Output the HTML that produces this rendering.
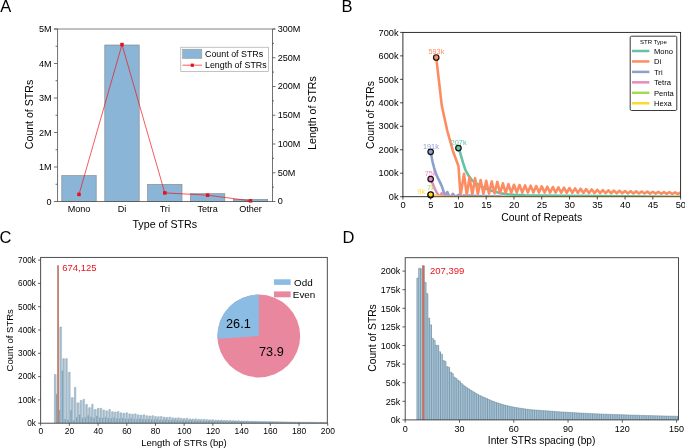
<!DOCTYPE html>
<html lang="en"><head><meta charset="utf-8"><title>STR statistics</title>
<style>html,body{margin:0;padding:0;background:#fff;}body{width:685px;height:448px;overflow:hidden;}svg{display:block;}text{font-family:"Liberation Sans", sans-serif;}</style>
</head><body>
<svg width="685" height="448" viewBox="0 0 685 448">
<rect x="0" y="0" width="685" height="448" fill="#ffffff"/>
<text x="0.2" y="11.9" font-size="16.5" text-anchor="start" fill="#000">A</text>
<text x="341.6" y="11.9" font-size="16.5" text-anchor="start" fill="#000">B</text>
<text x="-0.6" y="242.9" font-size="16.5" text-anchor="start" fill="#000">C</text>
<text x="342.6" y="242.9" font-size="16.5" text-anchor="start" fill="#000">D</text>
<g id="panelA">
<rect x="61.8" y="175.6" width="34.4" height="25.9" fill="#8ab5d6" stroke="#878787" stroke-width="0.65"/>
<rect x="104.8" y="45" width="34.4" height="156.5" fill="#8ab5d6" stroke="#878787" stroke-width="0.65"/>
<rect x="147.6" y="184.4" width="34.4" height="17.1" fill="#8ab5d6" stroke="#878787" stroke-width="0.65"/>
<rect x="190.4" y="193.7" width="34.4" height="7.8" fill="#8ab5d6" stroke="#878787" stroke-width="0.65"/>
<rect x="233.3" y="199.4" width="34.4" height="2.1" fill="#8ab5d6" stroke="#878787" stroke-width="0.65"/>
<polyline points="79,194.4 122,44.6 164.8,192.9 207.6,195.2 250.5,200.8" fill="none" stroke="#f0141e" stroke-width="0.7"/>
<rect x="77.25" y="192.65" width="3.5" height="3.5" fill="#e8101a" stroke="none" stroke-width="1"/>
<rect x="120.25" y="42.85" width="3.5" height="3.5" fill="#e8101a" stroke="none" stroke-width="1"/>
<rect x="163.05" y="191.15" width="3.5" height="3.5" fill="#e8101a" stroke="none" stroke-width="1"/>
<rect x="205.85" y="193.45" width="3.5" height="3.5" fill="#e8101a" stroke="none" stroke-width="1"/>
<rect x="248.75" y="199.05" width="3.5" height="3.5" fill="#e8101a" stroke="none" stroke-width="1"/>
<line x1="53.95" y1="29" x2="275.4" y2="29" stroke="#6a6a6a" stroke-width="0.85"/>
<line x1="57.55" y1="29" x2="57.55" y2="201.5" stroke="#4d4d4d" stroke-width="0.8"/>
<line x1="272.5" y1="29" x2="272.5" y2="201.5" stroke="#4d4d4d" stroke-width="0.8"/>
<line x1="57.15" y1="201.5" x2="272.9" y2="201.5" stroke="#4d4d4d" stroke-width="0.8"/>
<line x1="53.95" y1="201.5" x2="57.55" y2="201.5" stroke="#4d4d4d" stroke-width="0.8"/>
<text x="51.65" y="204.6" font-size="9.1" text-anchor="end" fill="#000">0</text>
<line x1="55.55" y1="184.25" x2="57.55" y2="184.25" stroke="#4d4d4d" stroke-width="0.8"/>
<line x1="53.95" y1="167" x2="57.55" y2="167" stroke="#4d4d4d" stroke-width="0.8"/>
<text x="51.65" y="170.1" font-size="9.1" text-anchor="end" fill="#000">1M</text>
<line x1="55.55" y1="149.75" x2="57.55" y2="149.75" stroke="#4d4d4d" stroke-width="0.8"/>
<line x1="53.95" y1="132.5" x2="57.55" y2="132.5" stroke="#4d4d4d" stroke-width="0.8"/>
<text x="51.65" y="135.6" font-size="9.1" text-anchor="end" fill="#000">2M</text>
<line x1="55.55" y1="115.25" x2="57.55" y2="115.25" stroke="#4d4d4d" stroke-width="0.8"/>
<line x1="53.95" y1="98" x2="57.55" y2="98" stroke="#4d4d4d" stroke-width="0.8"/>
<text x="51.65" y="101.1" font-size="9.1" text-anchor="end" fill="#000">3M</text>
<line x1="55.55" y1="80.75" x2="57.55" y2="80.75" stroke="#4d4d4d" stroke-width="0.8"/>
<line x1="53.95" y1="63.5" x2="57.55" y2="63.5" stroke="#4d4d4d" stroke-width="0.8"/>
<text x="51.65" y="66.6" font-size="9.1" text-anchor="end" fill="#000">4M</text>
<line x1="55.55" y1="46.25" x2="57.55" y2="46.25" stroke="#4d4d4d" stroke-width="0.8"/>
<line x1="53.95" y1="29" x2="57.55" y2="29" stroke="#4d4d4d" stroke-width="0.8"/>
<text x="51.65" y="32.1" font-size="9.1" text-anchor="end" fill="#000">5M</text>
<line x1="272.5" y1="201.5" x2="275.4" y2="201.5" stroke="#4d4d4d" stroke-width="0.8"/>
<text x="277.7" y="204.3" font-size="9.1" text-anchor="start" fill="#000">0</text>
<line x1="272.2" y1="187.12" x2="274" y2="187.12" stroke="#4d4d4d" stroke-width="0.8"/>
<line x1="272.5" y1="172.75" x2="275.4" y2="172.75" stroke="#4d4d4d" stroke-width="0.8"/>
<text x="277.7" y="175.55" font-size="9.1" text-anchor="start" fill="#000">50M</text>
<line x1="272.2" y1="158.38" x2="274" y2="158.38" stroke="#4d4d4d" stroke-width="0.8"/>
<line x1="272.5" y1="144" x2="275.4" y2="144" stroke="#4d4d4d" stroke-width="0.8"/>
<text x="277.7" y="146.8" font-size="9.1" text-anchor="start" fill="#000">100M</text>
<line x1="272.2" y1="129.62" x2="274" y2="129.62" stroke="#4d4d4d" stroke-width="0.8"/>
<line x1="272.5" y1="115.25" x2="275.4" y2="115.25" stroke="#4d4d4d" stroke-width="0.8"/>
<text x="277.7" y="118.05" font-size="9.1" text-anchor="start" fill="#000">150M</text>
<line x1="272.2" y1="100.88" x2="274" y2="100.88" stroke="#4d4d4d" stroke-width="0.8"/>
<line x1="272.5" y1="86.5" x2="275.4" y2="86.5" stroke="#4d4d4d" stroke-width="0.8"/>
<text x="277.7" y="89.3" font-size="9.1" text-anchor="start" fill="#000">200M</text>
<line x1="272.2" y1="72.12" x2="274" y2="72.12" stroke="#4d4d4d" stroke-width="0.8"/>
<line x1="272.5" y1="57.75" x2="275.4" y2="57.75" stroke="#4d4d4d" stroke-width="0.8"/>
<text x="277.7" y="60.55" font-size="9.1" text-anchor="start" fill="#000">250M</text>
<line x1="272.2" y1="43.38" x2="274" y2="43.38" stroke="#4d4d4d" stroke-width="0.8"/>
<line x1="272.5" y1="29" x2="275.4" y2="29" stroke="#4d4d4d" stroke-width="0.8"/>
<text x="277.7" y="31.8" font-size="9.1" text-anchor="start" fill="#000">300M</text>
<text x="79" y="212.2" font-size="9.1" text-anchor="middle" fill="#000">Mono</text>
<text x="122" y="212.2" font-size="9.1" text-anchor="middle" fill="#000">Di</text>
<text x="164.8" y="212.2" font-size="9.1" text-anchor="middle" fill="#000">Tri</text>
<text x="207.6" y="212.2" font-size="9.1" text-anchor="middle" fill="#000">Tetra</text>
<text x="250.5" y="212.2" font-size="9.1" text-anchor="middle" fill="#000">Other</text>
<text x="164.8" y="227.8" font-size="10.7" text-anchor="middle" fill="#000">Type of STRs</text>
<text x="33" y="114.5" font-size="10.6" text-anchor="middle" fill="#000" transform="rotate(-90 33 114.5)">Count of STRs</text>
<text x="316" y="113" font-size="10.6" text-anchor="middle" fill="#000" transform="rotate(-90 316 113)">Length of STRs</text>
<rect x="180.8" y="47.2" width="87.7" height="24.4" fill="#fff" stroke="#9a9a9a" stroke-width="0.6"/>
<rect x="182.6" y="49.2" width="19.2" height="9.2" fill="#8ab5d6" stroke="#9a9a9a" stroke-width="0.6"/>
<text x="205" y="57.3" font-size="8.9" text-anchor="start" fill="#000">Count of STRs</text>
<line x1="182.4" y1="65.2" x2="202" y2="65.2" stroke="#f0141e" stroke-width="0.7"/>
<rect x="190.7" y="63.6" width="3.2" height="3.2" fill="#e8101a" stroke="none" stroke-width="1"/>
<text x="205" y="68.3" font-size="8.9" text-anchor="start" fill="#000">Length of STRs</text>
</g>
<g id="panelB">
<clipPath id="clipB"><rect x="402.9" y="32.4" width="277.7" height="164"/></clipPath>
<polyline clip-path="url(#clipB)" points="458.44,148.11 460.11,152.57 462.99,162.67 465.49,170.18 468.66,175.81 471.77,180.13 475.55,182.9 480.66,186.14 486.21,188.72 491.76,190.83 497.32,192.36 502.87,193.65 508.43,194.35 513.98,194.82 525.09,195.29 541.75,195.57 569.52,195.86 625.06,196.42 680.6,196.7" fill="none" stroke="#66c2a5" stroke-width="2.6" stroke-linejoin="round" stroke-linecap="butt"/>
<polyline clip-path="url(#clipB)" points="436.22,57.51 441.78,105.63 447.33,130.98 452.89,150.93 458.44,165.95 460.55,195.76 463.99,173.7 466.77,195.06 469.55,177.22 472.32,194.7 475.1,178.16 477.88,194.35 480.66,180.04 483.43,194 486.21,180.74 488.99,193.65 491.76,181.44 494.54,193.44 497.32,181.91 500.1,193.23 502.87,183.32 505.65,193.01 508.43,184.03 511.2,192.8 513.98,184.73 516.76,192.59 519.53,185.06 522.31,192.59 525.09,185.39 527.87,192.59 530.64,185.72 533.42,192.59 536.2,186.04 538.97,192.59 541.75,186.37 544.53,192.59 547.3,186.7 550.08,192.64 552.86,187.03 555.63,192.69 558.41,187.36 561.19,192.73 563.97,187.69 566.74,192.78 569.52,188.02 572.3,192.83 575.07,188.37 577.85,192.9 580.63,188.72 583.4,192.97 586.18,189.07 588.96,193.04 591.74,189.42 594.51,193.11 597.29,189.78 600.07,193.18 602.84,190.03 605.62,193.23 608.4,190.29 611.17,193.27 613.95,190.55 616.73,193.32 619.51,190.81 622.28,193.37 625.06,191.07 627.84,193.41 630.61,191.21 633.39,193.46 636.17,191.35 638.95,193.51 641.72,191.49 644.5,193.55 647.28,191.63 650.05,193.6 652.83,191.77 655.61,193.65 658.38,191.91 661.16,193.77 663.94,192.05 666.72,193.88 669.49,192.19 672.27,194 675.05,192.33 677.82,194.12 680.6,192.48" fill="none" stroke="#fc8d62" stroke-width="2.6" stroke-linejoin="round" stroke-linecap="butt"/>
<polyline clip-path="url(#clipB)" points="430.67,151.87 432.5,161.49 434.39,169 436.22,174.4 438.06,178.39 439.95,182.15 441.78,186.14 443.61,191.54 445.5,196 447.33,192.01 449.16,196.23 451.05,196.23 452.89,193.88 454.72,196.35 456.61,196.35 458.44,194.82 460.27,196.47 462.16,196.47 463.99,195.29 465.83,196.47 467.72,196.47 469.55,195.53 471.38,196.47 473.27,196.47 475.1,195.76 476.93,196.47 478.82,196.47 480.66,196 482.49,196.47 484.38,196.47 486.21,196.11 488.99,196.51 491.76,196.23 494.54,196.51 497.32,196.35 502.87,196.7 513.98,197.4 680.6,197.52" fill="none" stroke="#8da0cb" stroke-width="2.6" stroke-linejoin="round" stroke-linecap="butt"/>
<polyline clip-path="url(#clipB)" points="430.67,179.1 432.06,182.15 433.45,185.43 434.84,188.72 436.22,191.54 437.61,193.88 439,196 440.39,196 441.78,193.18 443.17,196.23 444.56,196.47 447.33,195.53 448.72,196.47 452.89,196.11 454.27,196.58 458.44,196.7 469.55,197.4 680.6,197.52" fill="none" stroke="#e78ac3" stroke-width="2.6" stroke-linejoin="round" stroke-linecap="butt"/>
<polyline clip-path="url(#clipB)" points="430.67,195.06 434,196 436.22,196 438.45,196.47 441.78,196.58 447.33,197.17 458.44,197.4 680.6,197.52" fill="none" stroke="#a6d854" stroke-width="2.6" stroke-linejoin="round" stroke-linecap="butt"/>
<polyline clip-path="url(#clipB)" points="430.67,194.59 433.45,195.76 436.22,196 439,196.58 441.78,197.05 447.33,197.4 680.6,197.52" fill="none" stroke="#ffd92f" stroke-width="2.6" stroke-linejoin="round" stroke-linecap="butt"/>
<rect x="402.9" y="32.4" width="277.7" height="164.3" fill="none" stroke="#1a1a1a" stroke-width="0.9"/>
<line x1="430.67" y1="196.7" x2="680.6" y2="196.7" stroke="#ffd92f" stroke-width="0.9" stroke-opacity="0.3"/>
<circle cx="458.44" cy="148.11" r="2.75" fill="#66c2a5" stroke="#111" stroke-width="1.2"/>
<text x="458.64" y="144.81" font-size="7.3" text-anchor="middle" fill="#66c2a5">207k</text>
<circle cx="436.22" cy="57.51" r="2.75" fill="#fc8d62" stroke="#111" stroke-width="1.2"/>
<text x="436.42" y="54.21" font-size="7.3" text-anchor="middle" fill="#fc8d62">593k</text>
<circle cx="430.67" cy="151.87" r="2.75" fill="#8da0cb" stroke="#111" stroke-width="1.2"/>
<text x="430.87" y="148.57" font-size="7.3" text-anchor="middle" fill="#8da0cb">191k</text>
<circle cx="430.67" cy="179.1" r="2.75" fill="#e78ac3" stroke="#111" stroke-width="1.2"/>
<text x="430.67" y="175.8" font-size="7.3" text-anchor="middle" fill="#e78ac3">75k</text>
<circle cx="430.67" cy="195.06" r="2.75" fill="#a6d854" stroke="#111" stroke-width="1.2"/>
<text x="430.97" y="190.16" font-size="7.3" text-anchor="middle" fill="#a6d854">7k</text>
<circle cx="430.67" cy="194.59" r="2.75" fill="#ffd92f" stroke="#111" stroke-width="1.2"/>
<text x="425.07" y="194.19" font-size="7.3" text-anchor="end" fill="#ffd92f">9k</text>
<line x1="400.1" y1="196.7" x2="402.9" y2="196.7" stroke="#1a1a1a" stroke-width="0.8"/>
<text x="398.5" y="199.9" font-size="9.2" text-anchor="end" fill="#000">0k</text>
<line x1="400.1" y1="173.23" x2="402.9" y2="173.23" stroke="#1a1a1a" stroke-width="0.8"/>
<text x="398.5" y="176.43" font-size="9.2" text-anchor="end" fill="#000">100k</text>
<line x1="400.1" y1="149.76" x2="402.9" y2="149.76" stroke="#1a1a1a" stroke-width="0.8"/>
<text x="398.5" y="152.96" font-size="9.2" text-anchor="end" fill="#000">200k</text>
<line x1="400.1" y1="126.29" x2="402.9" y2="126.29" stroke="#1a1a1a" stroke-width="0.8"/>
<text x="398.5" y="129.49" font-size="9.2" text-anchor="end" fill="#000">300k</text>
<line x1="400.1" y1="102.81" x2="402.9" y2="102.81" stroke="#1a1a1a" stroke-width="0.8"/>
<text x="398.5" y="106.01" font-size="9.2" text-anchor="end" fill="#000">400k</text>
<line x1="400.1" y1="79.34" x2="402.9" y2="79.34" stroke="#1a1a1a" stroke-width="0.8"/>
<text x="398.5" y="82.54" font-size="9.2" text-anchor="end" fill="#000">500k</text>
<line x1="400.1" y1="55.87" x2="402.9" y2="55.87" stroke="#1a1a1a" stroke-width="0.8"/>
<text x="398.5" y="59.07" font-size="9.2" text-anchor="end" fill="#000">600k</text>
<line x1="400.1" y1="32.4" x2="402.9" y2="32.4" stroke="#1a1a1a" stroke-width="0.8"/>
<text x="398.5" y="35.6" font-size="9.2" text-anchor="end" fill="#000">700k</text>
<line x1="402.9" y1="196.7" x2="402.9" y2="199.5" stroke="#1a1a1a" stroke-width="0.8"/>
<text x="403.1" y="208.3" font-size="9.3" text-anchor="middle" fill="#000">0</text>
<line x1="430.67" y1="196.7" x2="430.67" y2="199.5" stroke="#1a1a1a" stroke-width="0.8"/>
<text x="430.87" y="208.3" font-size="9.3" text-anchor="middle" fill="#000">5</text>
<line x1="458.44" y1="196.7" x2="458.44" y2="199.5" stroke="#1a1a1a" stroke-width="0.8"/>
<text x="458.64" y="208.3" font-size="9.3" text-anchor="middle" fill="#000">10</text>
<line x1="486.21" y1="196.7" x2="486.21" y2="199.5" stroke="#1a1a1a" stroke-width="0.8"/>
<text x="486.41" y="208.3" font-size="9.3" text-anchor="middle" fill="#000">15</text>
<line x1="513.98" y1="196.7" x2="513.98" y2="199.5" stroke="#1a1a1a" stroke-width="0.8"/>
<text x="514.18" y="208.3" font-size="9.3" text-anchor="middle" fill="#000">20</text>
<line x1="541.75" y1="196.7" x2="541.75" y2="199.5" stroke="#1a1a1a" stroke-width="0.8"/>
<text x="541.95" y="208.3" font-size="9.3" text-anchor="middle" fill="#000">25</text>
<line x1="569.52" y1="196.7" x2="569.52" y2="199.5" stroke="#1a1a1a" stroke-width="0.8"/>
<text x="569.72" y="208.3" font-size="9.3" text-anchor="middle" fill="#000">30</text>
<line x1="597.29" y1="196.7" x2="597.29" y2="199.5" stroke="#1a1a1a" stroke-width="0.8"/>
<text x="597.49" y="208.3" font-size="9.3" text-anchor="middle" fill="#000">35</text>
<line x1="625.06" y1="196.7" x2="625.06" y2="199.5" stroke="#1a1a1a" stroke-width="0.8"/>
<text x="625.26" y="208.3" font-size="9.3" text-anchor="middle" fill="#000">40</text>
<line x1="652.83" y1="196.7" x2="652.83" y2="199.5" stroke="#1a1a1a" stroke-width="0.8"/>
<text x="653.03" y="208.3" font-size="9.3" text-anchor="middle" fill="#000">45</text>
<line x1="680.6" y1="196.7" x2="680.6" y2="199.5" stroke="#1a1a1a" stroke-width="0.8"/>
<text x="680.8" y="208.3" font-size="9.3" text-anchor="middle" fill="#000">50</text>
<text x="541.7" y="221.4" font-size="10.4" text-anchor="middle" fill="#000">Count of Repeats</text>
<text x="373.8" y="115" font-size="10.4" text-anchor="middle" fill="#000" transform="rotate(-90 373.8 115)">Count of STRs</text>
<rect x="630.2" y="36.2" width="46.6" height="74.3" fill="#fff" stroke="#222" stroke-width="0.9" rx="1.4"/>
<text x="653.4" y="44" font-size="6.1" text-anchor="middle" fill="#000">STR Type</text>
<line x1="632" y1="51" x2="649.4" y2="51" stroke="#66c2a5" stroke-width="2.5"/>
<text x="654" y="53.8" font-size="7.6" text-anchor="start" fill="#000">Mono</text>
<line x1="632" y1="61.45" x2="649.4" y2="61.45" stroke="#fc8d62" stroke-width="2.5"/>
<text x="654" y="64.25" font-size="7.6" text-anchor="start" fill="#000">Di</text>
<line x1="632" y1="71.9" x2="649.4" y2="71.9" stroke="#8da0cb" stroke-width="2.5"/>
<text x="654" y="74.7" font-size="7.6" text-anchor="start" fill="#000">Tri</text>
<line x1="632" y1="82.35" x2="649.4" y2="82.35" stroke="#e78ac3" stroke-width="2.5"/>
<text x="654" y="85.15" font-size="7.6" text-anchor="start" fill="#000">Tetra</text>
<line x1="632" y1="92.8" x2="649.4" y2="92.8" stroke="#a6d854" stroke-width="2.5"/>
<text x="654" y="95.6" font-size="7.6" text-anchor="start" fill="#000">Penta</text>
<line x1="632" y1="103.25" x2="649.4" y2="103.25" stroke="#ffd92f" stroke-width="2.5"/>
<text x="654" y="106.05" font-size="7.6" text-anchor="start" fill="#000">Hexa</text>
</g>
<g id="panelC">
<clipPath id="clipC"><rect x="40.65" y="257.4" width="286.65" height="165.8"/></clipPath>
<g clip-path="url(#clipC)">
<rect x="55.91" y="374.5" width="1.44" height="48.7" fill="#e3e5e7" stroke="none" stroke-width="1"/>
<rect x="58.78" y="326.97" width="1.44" height="96.23" fill="#e3e5e7" stroke="none" stroke-width="1"/>
<rect x="61.65" y="358.66" width="1.44" height="64.54" fill="#e3e5e7" stroke="none" stroke-width="1"/>
<rect x="64.52" y="358.66" width="1.44" height="64.54" fill="#e3e5e7" stroke="none" stroke-width="1"/>
<rect x="67.39" y="372.17" width="1.44" height="51.03" fill="#e3e5e7" stroke="none" stroke-width="1"/>
<rect x="70.26" y="397.57" width="1.44" height="25.63" fill="#e3e5e7" stroke="none" stroke-width="1"/>
<rect x="73.13" y="397.57" width="1.44" height="25.63" fill="#e3e5e7" stroke="none" stroke-width="1"/>
<rect x="76" y="402.79" width="1.44" height="20.41" fill="#e3e5e7" stroke="none" stroke-width="1"/>
<rect x="78.87" y="402.79" width="1.44" height="20.41" fill="#e3e5e7" stroke="none" stroke-width="1"/>
<rect x="81.74" y="400.37" width="1.44" height="22.83" fill="#e3e5e7" stroke="none" stroke-width="1"/>
<rect x="84.61" y="404.42" width="1.44" height="18.78" fill="#e3e5e7" stroke="none" stroke-width="1"/>
<rect x="87.48" y="407.59" width="1.44" height="15.61" fill="#e3e5e7" stroke="none" stroke-width="1"/>
<rect x="90.35" y="407.59" width="1.44" height="15.61" fill="#e3e5e7" stroke="none" stroke-width="1"/>
<rect x="93.22" y="409.45" width="1.44" height="13.75" fill="#e3e5e7" stroke="none" stroke-width="1"/>
<rect x="96.09" y="409.45" width="1.44" height="13.75" fill="#e3e5e7" stroke="none" stroke-width="1"/>
<rect x="98.96" y="408.29" width="1.44" height="14.91" fill="#e3e5e7" stroke="none" stroke-width="1"/>
<rect x="101.83" y="409.92" width="1.44" height="13.28" fill="#e3e5e7" stroke="none" stroke-width="1"/>
<rect x="104.71" y="410.85" width="1.44" height="12.35" fill="#e3e5e7" stroke="none" stroke-width="1"/>
<rect x="107.58" y="410.85" width="1.44" height="12.35" fill="#e3e5e7" stroke="none" stroke-width="1"/>
<rect x="110.45" y="411.67" width="1.44" height="11.53" fill="#e3e5e7" stroke="none" stroke-width="1"/>
<rect x="113.32" y="411.97" width="1.44" height="11.23" fill="#e3e5e7" stroke="none" stroke-width="1"/>
<rect x="116.19" y="411.97" width="1.44" height="11.23" fill="#e3e5e7" stroke="none" stroke-width="1"/>
<rect x="119.06" y="412.75" width="1.44" height="10.45" fill="#e3e5e7" stroke="none" stroke-width="1"/>
<rect x="121.93" y="413.13" width="1.44" height="10.07" fill="#e3e5e7" stroke="none" stroke-width="1"/>
<rect x="124.8" y="413.13" width="1.44" height="10.07" fill="#e3e5e7" stroke="none" stroke-width="1"/>
<rect x="127.67" y="413.83" width="1.44" height="9.37" fill="#e3e5e7" stroke="none" stroke-width="1"/>
<rect x="130.54" y="414.17" width="1.44" height="9.03" fill="#e3e5e7" stroke="none" stroke-width="1"/>
<rect x="133.41" y="414.17" width="1.44" height="9.03" fill="#e3e5e7" stroke="none" stroke-width="1"/>
<rect x="136.28" y="414.8" width="1.44" height="8.4" fill="#e3e5e7" stroke="none" stroke-width="1"/>
<rect x="139.15" y="415.1" width="1.44" height="8.1" fill="#e3e5e7" stroke="none" stroke-width="1"/>
<rect x="142.02" y="415.1" width="1.44" height="8.1" fill="#e3e5e7" stroke="none" stroke-width="1"/>
<rect x="144.89" y="415.67" width="1.44" height="7.53" fill="#e3e5e7" stroke="none" stroke-width="1"/>
<rect x="147.76" y="415.94" width="1.44" height="7.26" fill="#e3e5e7" stroke="none" stroke-width="1"/>
<rect x="150.63" y="415.94" width="1.44" height="7.26" fill="#e3e5e7" stroke="none" stroke-width="1"/>
<rect x="153.5" y="416.45" width="1.44" height="6.75" fill="#e3e5e7" stroke="none" stroke-width="1"/>
<rect x="156.37" y="416.69" width="1.44" height="6.51" fill="#e3e5e7" stroke="none" stroke-width="1"/>
<rect x="159.24" y="416.69" width="1.44" height="6.51" fill="#e3e5e7" stroke="none" stroke-width="1"/>
<rect x="162.12" y="417.15" width="1.44" height="6.05" fill="#e3e5e7" stroke="none" stroke-width="1"/>
<rect x="164.99" y="417.36" width="1.44" height="5.84" fill="#e3e5e7" stroke="none" stroke-width="1"/>
<rect x="167.86" y="417.36" width="1.44" height="5.84" fill="#e3e5e7" stroke="none" stroke-width="1"/>
<rect x="170.73" y="417.77" width="1.44" height="5.43" fill="#e3e5e7" stroke="none" stroke-width="1"/>
<rect x="173.6" y="417.97" width="1.44" height="5.23" fill="#e3e5e7" stroke="none" stroke-width="1"/>
<rect x="176.47" y="417.97" width="1.44" height="5.23" fill="#e3e5e7" stroke="none" stroke-width="1"/>
<rect x="179.34" y="418.33" width="1.44" height="4.87" fill="#e3e5e7" stroke="none" stroke-width="1"/>
<rect x="182.21" y="418.51" width="1.44" height="4.69" fill="#e3e5e7" stroke="none" stroke-width="1"/>
<rect x="185.08" y="418.51" width="1.44" height="4.69" fill="#e3e5e7" stroke="none" stroke-width="1"/>
<rect x="187.95" y="418.84" width="1.44" height="4.36" fill="#e3e5e7" stroke="none" stroke-width="1"/>
<rect x="190.82" y="418.99" width="1.44" height="4.21" fill="#e3e5e7" stroke="none" stroke-width="1"/>
<rect x="193.69" y="418.99" width="1.44" height="4.21" fill="#e3e5e7" stroke="none" stroke-width="1"/>
<rect x="196.56" y="419.29" width="1.44" height="3.91" fill="#e3e5e7" stroke="none" stroke-width="1"/>
<rect x="199.43" y="419.43" width="1.44" height="3.77" fill="#e3e5e7" stroke="none" stroke-width="1"/>
<rect x="202.3" y="419.43" width="1.44" height="3.77" fill="#e3e5e7" stroke="none" stroke-width="1"/>
<rect x="205.17" y="419.69" width="1.44" height="3.51" fill="#e3e5e7" stroke="none" stroke-width="1"/>
<rect x="208.04" y="419.82" width="1.44" height="3.38" fill="#e3e5e7" stroke="none" stroke-width="1"/>
<rect x="210.91" y="419.82" width="1.44" height="3.38" fill="#e3e5e7" stroke="none" stroke-width="1"/>
<rect x="213.78" y="420.05" width="1.44" height="3.15" fill="#e3e5e7" stroke="none" stroke-width="1"/>
<rect x="216.65" y="420.17" width="1.44" height="3.03" fill="#e3e5e7" stroke="none" stroke-width="1"/>
<rect x="219.53" y="420.17" width="1.44" height="3.03" fill="#e3e5e7" stroke="none" stroke-width="1"/>
<rect x="222.4" y="420.38" width="1.44" height="2.82" fill="#e3e5e7" stroke="none" stroke-width="1"/>
<rect x="225.27" y="420.48" width="1.44" height="2.72" fill="#e3e5e7" stroke="none" stroke-width="1"/>
<rect x="228.14" y="420.48" width="1.44" height="2.72" fill="#e3e5e7" stroke="none" stroke-width="1"/>
<rect x="231.01" y="420.67" width="1.44" height="2.53" fill="#e3e5e7" stroke="none" stroke-width="1"/>
<rect x="233.88" y="420.76" width="1.44" height="2.44" fill="#e3e5e7" stroke="none" stroke-width="1"/>
<rect x="236.75" y="420.76" width="1.44" height="2.44" fill="#e3e5e7" stroke="none" stroke-width="1"/>
<rect x="239.62" y="420.93" width="1.44" height="2.27" fill="#e3e5e7" stroke="none" stroke-width="1"/>
<rect x="242.49" y="421.01" width="1.44" height="2.19" fill="#e3e5e7" stroke="none" stroke-width="1"/>
<rect x="245.36" y="421.01" width="1.44" height="2.19" fill="#e3e5e7" stroke="none" stroke-width="1"/>
<rect x="248.23" y="421.17" width="1.44" height="2.03" fill="#e3e5e7" stroke="none" stroke-width="1"/>
<rect x="251.1" y="421.24" width="1.44" height="1.96" fill="#e3e5e7" stroke="none" stroke-width="1"/>
<rect x="253.97" y="421.24" width="1.44" height="1.96" fill="#e3e5e7" stroke="none" stroke-width="1"/>
<rect x="256.84" y="421.38" width="1.44" height="1.82" fill="#e3e5e7" stroke="none" stroke-width="1"/>
<rect x="259.71" y="421.44" width="1.44" height="1.76" fill="#e3e5e7" stroke="none" stroke-width="1"/>
<rect x="262.58" y="421.44" width="1.44" height="1.76" fill="#e3e5e7" stroke="none" stroke-width="1"/>
<rect x="265.45" y="421.56" width="1.44" height="1.64" fill="#e3e5e7" stroke="none" stroke-width="1"/>
<rect x="268.32" y="421.62" width="1.44" height="1.58" fill="#e3e5e7" stroke="none" stroke-width="1"/>
<rect x="271.19" y="421.62" width="1.44" height="1.58" fill="#e3e5e7" stroke="none" stroke-width="1"/>
<rect x="274.06" y="421.73" width="1.44" height="1.47" fill="#e3e5e7" stroke="none" stroke-width="1"/>
<rect x="276.94" y="421.79" width="1.44" height="1.41" fill="#e3e5e7" stroke="none" stroke-width="1"/>
<rect x="279.81" y="421.79" width="1.44" height="1.41" fill="#e3e5e7" stroke="none" stroke-width="1"/>
<rect x="282.68" y="421.89" width="1.44" height="1.31" fill="#e3e5e7" stroke="none" stroke-width="1"/>
<rect x="285.55" y="421.93" width="1.44" height="1.27" fill="#e3e5e7" stroke="none" stroke-width="1"/>
<rect x="288.42" y="421.93" width="1.44" height="1.27" fill="#e3e5e7" stroke="none" stroke-width="1"/>
<rect x="291.29" y="422.02" width="1.44" height="1.18" fill="#e3e5e7" stroke="none" stroke-width="1"/>
<rect x="294.16" y="422.06" width="1.44" height="1.14" fill="#e3e5e7" stroke="none" stroke-width="1"/>
<rect x="297.03" y="422.06" width="1.44" height="1.14" fill="#e3e5e7" stroke="none" stroke-width="1"/>
<rect x="299.9" y="422.14" width="1.44" height="1.06" fill="#e3e5e7" stroke="none" stroke-width="1"/>
<rect x="302.77" y="422.18" width="1.44" height="1.02" fill="#e3e5e7" stroke="none" stroke-width="1"/>
<rect x="305.64" y="422.18" width="1.44" height="1.02" fill="#e3e5e7" stroke="none" stroke-width="1"/>
<rect x="308.51" y="422.25" width="1.44" height="0.95" fill="#e3e5e7" stroke="none" stroke-width="1"/>
<rect x="311.38" y="422.29" width="1.44" height="0.91" fill="#e3e5e7" stroke="none" stroke-width="1"/>
<rect x="314.25" y="422.29" width="1.44" height="0.91" fill="#e3e5e7" stroke="none" stroke-width="1"/>
<rect x="317.12" y="422.35" width="1.44" height="0.85" fill="#e3e5e7" stroke="none" stroke-width="1"/>
<rect x="319.99" y="422.38" width="1.44" height="0.82" fill="#e3e5e7" stroke="none" stroke-width="1"/>
<rect x="322.86" y="422.38" width="1.44" height="0.82" fill="#e3e5e7" stroke="none" stroke-width="1"/>
<rect x="325.73" y="422.44" width="1.44" height="0.76" fill="#e3e5e7" stroke="none" stroke-width="1"/>
<rect x="54.4" y="374.5" width="1.58" height="48.7" fill="#a9c8dc" stroke="none" stroke-width="1"/>
<line x1="54.4" y1="374.5" x2="54.4" y2="423.2" stroke="#61798a" stroke-width="0.45" stroke-opacity="0.8"/>
<line x1="55.98" y1="374.5" x2="55.98" y2="423.2" stroke="#61798a" stroke-width="0.3" stroke-opacity="0.55"/>
<line x1="54.4" y1="374.5" x2="55.98" y2="374.5" stroke="#61798a" stroke-width="0.4" stroke-opacity="0.7"/>
<rect x="60.14" y="326.97" width="1.58" height="96.23" fill="#a9c8dc" stroke="none" stroke-width="1"/>
<line x1="60.14" y1="326.97" x2="60.14" y2="423.2" stroke="#61798a" stroke-width="0.45" stroke-opacity="0.8"/>
<line x1="61.72" y1="326.97" x2="61.72" y2="423.2" stroke="#61798a" stroke-width="0.3" stroke-opacity="0.55"/>
<line x1="60.14" y1="326.97" x2="61.72" y2="326.97" stroke="#61798a" stroke-width="0.4" stroke-opacity="0.7"/>
<rect x="63.01" y="358.66" width="1.58" height="64.54" fill="#a9c8dc" stroke="none" stroke-width="1"/>
<line x1="63.01" y1="358.66" x2="63.01" y2="423.2" stroke="#61798a" stroke-width="0.45" stroke-opacity="0.8"/>
<line x1="64.59" y1="358.66" x2="64.59" y2="423.2" stroke="#61798a" stroke-width="0.3" stroke-opacity="0.55"/>
<line x1="63.01" y1="358.66" x2="64.59" y2="358.66" stroke="#61798a" stroke-width="0.4" stroke-opacity="0.7"/>
<rect x="65.88" y="358.66" width="1.58" height="64.54" fill="#a9c8dc" stroke="none" stroke-width="1"/>
<line x1="65.88" y1="358.66" x2="65.88" y2="423.2" stroke="#61798a" stroke-width="0.45" stroke-opacity="0.8"/>
<line x1="67.46" y1="358.66" x2="67.46" y2="423.2" stroke="#61798a" stroke-width="0.3" stroke-opacity="0.55"/>
<line x1="65.88" y1="358.66" x2="67.46" y2="358.66" stroke="#61798a" stroke-width="0.4" stroke-opacity="0.7"/>
<rect x="68.75" y="372.17" width="1.58" height="51.03" fill="#a9c8dc" stroke="none" stroke-width="1"/>
<line x1="68.75" y1="372.17" x2="68.75" y2="423.2" stroke="#61798a" stroke-width="0.45" stroke-opacity="0.8"/>
<line x1="70.33" y1="372.17" x2="70.33" y2="423.2" stroke="#61798a" stroke-width="0.3" stroke-opacity="0.55"/>
<line x1="68.75" y1="372.17" x2="70.33" y2="372.17" stroke="#61798a" stroke-width="0.4" stroke-opacity="0.7"/>
<rect x="71.62" y="397.57" width="1.58" height="25.63" fill="#a9c8dc" stroke="none" stroke-width="1"/>
<line x1="71.62" y1="397.57" x2="71.62" y2="423.2" stroke="#61798a" stroke-width="0.45" stroke-opacity="0.8"/>
<line x1="73.2" y1="397.57" x2="73.2" y2="423.2" stroke="#61798a" stroke-width="0.3" stroke-opacity="0.55"/>
<line x1="71.62" y1="397.57" x2="73.2" y2="397.57" stroke="#61798a" stroke-width="0.4" stroke-opacity="0.7"/>
<rect x="74.49" y="387.32" width="1.58" height="35.88" fill="#a9c8dc" stroke="none" stroke-width="1"/>
<line x1="74.49" y1="387.32" x2="74.49" y2="423.2" stroke="#61798a" stroke-width="0.45" stroke-opacity="0.8"/>
<line x1="76.07" y1="387.32" x2="76.07" y2="423.2" stroke="#61798a" stroke-width="0.3" stroke-opacity="0.55"/>
<line x1="74.49" y1="387.32" x2="76.07" y2="387.32" stroke="#61798a" stroke-width="0.4" stroke-opacity="0.7"/>
<rect x="77.36" y="402.79" width="1.58" height="20.41" fill="#a9c8dc" stroke="none" stroke-width="1"/>
<line x1="77.36" y1="402.79" x2="77.36" y2="423.2" stroke="#61798a" stroke-width="0.45" stroke-opacity="0.8"/>
<line x1="78.94" y1="402.79" x2="78.94" y2="423.2" stroke="#61798a" stroke-width="0.3" stroke-opacity="0.55"/>
<line x1="77.36" y1="402.79" x2="78.94" y2="402.79" stroke="#61798a" stroke-width="0.4" stroke-opacity="0.7"/>
<rect x="80.23" y="400.37" width="1.58" height="22.83" fill="#a9c8dc" stroke="none" stroke-width="1"/>
<line x1="80.23" y1="400.37" x2="80.23" y2="423.2" stroke="#61798a" stroke-width="0.45" stroke-opacity="0.8"/>
<line x1="81.81" y1="400.37" x2="81.81" y2="423.2" stroke="#61798a" stroke-width="0.3" stroke-opacity="0.55"/>
<line x1="80.23" y1="400.37" x2="81.81" y2="400.37" stroke="#61798a" stroke-width="0.4" stroke-opacity="0.7"/>
<rect x="83.1" y="399.29" width="1.58" height="23.91" fill="#a9c8dc" stroke="none" stroke-width="1"/>
<line x1="83.1" y1="399.29" x2="83.1" y2="423.2" stroke="#61798a" stroke-width="0.45" stroke-opacity="0.8"/>
<line x1="84.68" y1="399.29" x2="84.68" y2="423.2" stroke="#61798a" stroke-width="0.3" stroke-opacity="0.55"/>
<line x1="83.1" y1="399.29" x2="84.68" y2="399.29" stroke="#61798a" stroke-width="0.4" stroke-opacity="0.7"/>
<rect x="85.98" y="404.42" width="1.58" height="18.78" fill="#a9c8dc" stroke="none" stroke-width="1"/>
<line x1="85.98" y1="404.42" x2="85.98" y2="423.2" stroke="#61798a" stroke-width="0.45" stroke-opacity="0.8"/>
<line x1="87.55" y1="404.42" x2="87.55" y2="423.2" stroke="#61798a" stroke-width="0.3" stroke-opacity="0.55"/>
<line x1="85.98" y1="404.42" x2="87.55" y2="404.42" stroke="#61798a" stroke-width="0.4" stroke-opacity="0.7"/>
<rect x="88.85" y="407.59" width="1.58" height="15.61" fill="#a9c8dc" stroke="none" stroke-width="1"/>
<line x1="88.85" y1="407.59" x2="88.85" y2="423.2" stroke="#61798a" stroke-width="0.45" stroke-opacity="0.8"/>
<line x1="90.42" y1="407.59" x2="90.42" y2="423.2" stroke="#61798a" stroke-width="0.3" stroke-opacity="0.55"/>
<line x1="88.85" y1="407.59" x2="90.42" y2="407.59" stroke="#61798a" stroke-width="0.4" stroke-opacity="0.7"/>
<rect x="91.72" y="404.33" width="1.58" height="18.87" fill="#a9c8dc" stroke="none" stroke-width="1"/>
<line x1="91.72" y1="404.33" x2="91.72" y2="423.2" stroke="#61798a" stroke-width="0.45" stroke-opacity="0.8"/>
<line x1="93.29" y1="404.33" x2="93.29" y2="423.2" stroke="#61798a" stroke-width="0.3" stroke-opacity="0.55"/>
<line x1="91.72" y1="404.33" x2="93.29" y2="404.33" stroke="#61798a" stroke-width="0.4" stroke-opacity="0.7"/>
<rect x="94.59" y="409.45" width="1.58" height="13.75" fill="#a9c8dc" stroke="none" stroke-width="1"/>
<line x1="94.59" y1="409.45" x2="94.59" y2="423.2" stroke="#61798a" stroke-width="0.45" stroke-opacity="0.8"/>
<line x1="96.17" y1="409.45" x2="96.17" y2="423.2" stroke="#61798a" stroke-width="0.3" stroke-opacity="0.55"/>
<line x1="94.59" y1="409.45" x2="96.17" y2="409.45" stroke="#61798a" stroke-width="0.4" stroke-opacity="0.7"/>
<rect x="97.46" y="408.29" width="1.58" height="14.91" fill="#a9c8dc" stroke="none" stroke-width="1"/>
<line x1="97.46" y1="408.29" x2="97.46" y2="423.2" stroke="#61798a" stroke-width="0.45" stroke-opacity="0.8"/>
<line x1="99.04" y1="408.29" x2="99.04" y2="423.2" stroke="#61798a" stroke-width="0.3" stroke-opacity="0.55"/>
<line x1="97.46" y1="408.29" x2="99.04" y2="408.29" stroke="#61798a" stroke-width="0.4" stroke-opacity="0.7"/>
<rect x="100.33" y="408.29" width="1.58" height="14.91" fill="#a9c8dc" stroke="none" stroke-width="1"/>
<line x1="100.33" y1="408.29" x2="100.33" y2="423.2" stroke="#61798a" stroke-width="0.45" stroke-opacity="0.8"/>
<line x1="101.91" y1="408.29" x2="101.91" y2="423.2" stroke="#61798a" stroke-width="0.3" stroke-opacity="0.55"/>
<line x1="100.33" y1="408.29" x2="101.91" y2="408.29" stroke="#61798a" stroke-width="0.4" stroke-opacity="0.7"/>
<rect x="103.2" y="409.92" width="1.58" height="13.28" fill="#a9c8dc" stroke="none" stroke-width="1"/>
<line x1="103.2" y1="409.92" x2="103.2" y2="423.2" stroke="#61798a" stroke-width="0.45" stroke-opacity="0.8"/>
<line x1="104.78" y1="409.92" x2="104.78" y2="423.2" stroke="#61798a" stroke-width="0.3" stroke-opacity="0.55"/>
<line x1="103.2" y1="409.92" x2="104.78" y2="409.92" stroke="#61798a" stroke-width="0.4" stroke-opacity="0.7"/>
<rect x="106.07" y="410.85" width="1.58" height="12.35" fill="#a9c8dc" stroke="none" stroke-width="1"/>
<line x1="106.07" y1="410.85" x2="106.07" y2="423.2" stroke="#61798a" stroke-width="0.45" stroke-opacity="0.8"/>
<line x1="107.65" y1="410.85" x2="107.65" y2="423.2" stroke="#61798a" stroke-width="0.3" stroke-opacity="0.55"/>
<line x1="106.07" y1="410.85" x2="107.65" y2="410.85" stroke="#61798a" stroke-width="0.4" stroke-opacity="0.7"/>
<rect x="108.94" y="409.45" width="1.58" height="13.75" fill="#a9c8dc" stroke="none" stroke-width="1"/>
<line x1="108.94" y1="409.45" x2="108.94" y2="423.2" stroke="#61798a" stroke-width="0.45" stroke-opacity="0.8"/>
<line x1="110.52" y1="409.45" x2="110.52" y2="423.2" stroke="#61798a" stroke-width="0.3" stroke-opacity="0.55"/>
<line x1="108.94" y1="409.45" x2="110.52" y2="409.45" stroke="#61798a" stroke-width="0.4" stroke-opacity="0.7"/>
<rect x="111.81" y="411.67" width="1.58" height="11.53" fill="#a9c8dc" stroke="none" stroke-width="1"/>
<line x1="111.81" y1="411.67" x2="111.81" y2="423.2" stroke="#61798a" stroke-width="0.45" stroke-opacity="0.8"/>
<line x1="113.39" y1="411.67" x2="113.39" y2="423.2" stroke="#61798a" stroke-width="0.3" stroke-opacity="0.55"/>
<line x1="111.81" y1="411.67" x2="113.39" y2="411.67" stroke="#61798a" stroke-width="0.4" stroke-opacity="0.7"/>
<rect x="114.68" y="411.97" width="1.58" height="11.23" fill="#a9c8dc" stroke="none" stroke-width="1"/>
<line x1="114.68" y1="411.97" x2="114.68" y2="423.2" stroke="#61798a" stroke-width="0.45" stroke-opacity="0.8"/>
<line x1="116.26" y1="411.97" x2="116.26" y2="423.2" stroke="#61798a" stroke-width="0.3" stroke-opacity="0.55"/>
<line x1="114.68" y1="411.97" x2="116.26" y2="411.97" stroke="#61798a" stroke-width="0.4" stroke-opacity="0.7"/>
<rect x="117.55" y="411.5" width="1.58" height="11.7" fill="#a9c8dc" stroke="none" stroke-width="1"/>
<line x1="117.55" y1="411.5" x2="117.55" y2="423.2" stroke="#61798a" stroke-width="0.45" stroke-opacity="0.8"/>
<line x1="119.13" y1="411.5" x2="119.13" y2="423.2" stroke="#61798a" stroke-width="0.3" stroke-opacity="0.55"/>
<line x1="117.55" y1="411.5" x2="119.13" y2="411.5" stroke="#61798a" stroke-width="0.4" stroke-opacity="0.7"/>
<rect x="120.42" y="412.75" width="1.58" height="10.45" fill="#a9c8dc" stroke="none" stroke-width="1"/>
<line x1="120.42" y1="412.75" x2="120.42" y2="423.2" stroke="#61798a" stroke-width="0.45" stroke-opacity="0.8"/>
<line x1="122" y1="412.75" x2="122" y2="423.2" stroke="#61798a" stroke-width="0.3" stroke-opacity="0.55"/>
<line x1="120.42" y1="412.75" x2="122" y2="412.75" stroke="#61798a" stroke-width="0.4" stroke-opacity="0.7"/>
<rect x="123.29" y="413.13" width="1.58" height="10.07" fill="#a9c8dc" stroke="none" stroke-width="1"/>
<line x1="123.29" y1="413.13" x2="123.29" y2="423.2" stroke="#61798a" stroke-width="0.45" stroke-opacity="0.8"/>
<line x1="124.87" y1="413.13" x2="124.87" y2="423.2" stroke="#61798a" stroke-width="0.3" stroke-opacity="0.55"/>
<line x1="123.29" y1="413.13" x2="124.87" y2="413.13" stroke="#61798a" stroke-width="0.4" stroke-opacity="0.7"/>
<rect x="126.16" y="412.71" width="1.58" height="10.49" fill="#a9c8dc" stroke="none" stroke-width="1"/>
<line x1="126.16" y1="412.71" x2="126.16" y2="423.2" stroke="#61798a" stroke-width="0.45" stroke-opacity="0.8"/>
<line x1="127.74" y1="412.71" x2="127.74" y2="423.2" stroke="#61798a" stroke-width="0.3" stroke-opacity="0.55"/>
<line x1="126.16" y1="412.71" x2="127.74" y2="412.71" stroke="#61798a" stroke-width="0.4" stroke-opacity="0.7"/>
<rect x="129.03" y="413.83" width="1.58" height="9.37" fill="#a9c8dc" stroke="none" stroke-width="1"/>
<line x1="129.03" y1="413.83" x2="129.03" y2="423.2" stroke="#61798a" stroke-width="0.45" stroke-opacity="0.8"/>
<line x1="130.61" y1="413.83" x2="130.61" y2="423.2" stroke="#61798a" stroke-width="0.3" stroke-opacity="0.55"/>
<line x1="129.03" y1="413.83" x2="130.61" y2="413.83" stroke="#61798a" stroke-width="0.4" stroke-opacity="0.7"/>
<rect x="131.9" y="414.17" width="1.58" height="9.03" fill="#a9c8dc" stroke="none" stroke-width="1"/>
<line x1="131.9" y1="414.17" x2="131.9" y2="423.2" stroke="#61798a" stroke-width="0.45" stroke-opacity="0.8"/>
<line x1="133.48" y1="414.17" x2="133.48" y2="423.2" stroke="#61798a" stroke-width="0.3" stroke-opacity="0.55"/>
<line x1="131.9" y1="414.17" x2="133.48" y2="414.17" stroke="#61798a" stroke-width="0.4" stroke-opacity="0.7"/>
<rect x="134.77" y="413.79" width="1.58" height="9.41" fill="#a9c8dc" stroke="none" stroke-width="1"/>
<line x1="134.77" y1="413.79" x2="134.77" y2="423.2" stroke="#61798a" stroke-width="0.45" stroke-opacity="0.8"/>
<line x1="136.35" y1="413.79" x2="136.35" y2="423.2" stroke="#61798a" stroke-width="0.3" stroke-opacity="0.55"/>
<line x1="134.77" y1="413.79" x2="136.35" y2="413.79" stroke="#61798a" stroke-width="0.4" stroke-opacity="0.7"/>
<rect x="137.64" y="414.8" width="1.58" height="8.4" fill="#a9c8dc" stroke="none" stroke-width="1"/>
<line x1="137.64" y1="414.8" x2="137.64" y2="423.2" stroke="#61798a" stroke-width="0.45" stroke-opacity="0.8"/>
<line x1="139.22" y1="414.8" x2="139.22" y2="423.2" stroke="#61798a" stroke-width="0.3" stroke-opacity="0.55"/>
<line x1="137.64" y1="414.8" x2="139.22" y2="414.8" stroke="#61798a" stroke-width="0.4" stroke-opacity="0.7"/>
<rect x="140.51" y="415.1" width="1.58" height="8.1" fill="#a9c8dc" stroke="none" stroke-width="1"/>
<line x1="140.51" y1="415.1" x2="140.51" y2="423.2" stroke="#61798a" stroke-width="0.45" stroke-opacity="0.8"/>
<line x1="142.09" y1="415.1" x2="142.09" y2="423.2" stroke="#61798a" stroke-width="0.3" stroke-opacity="0.55"/>
<line x1="140.51" y1="415.1" x2="142.09" y2="415.1" stroke="#61798a" stroke-width="0.4" stroke-opacity="0.7"/>
<rect x="143.39" y="414.77" width="1.58" height="8.43" fill="#a9c8dc" stroke="none" stroke-width="1"/>
<line x1="143.39" y1="414.77" x2="143.39" y2="423.2" stroke="#61798a" stroke-width="0.45" stroke-opacity="0.8"/>
<line x1="144.96" y1="414.77" x2="144.96" y2="423.2" stroke="#61798a" stroke-width="0.3" stroke-opacity="0.55"/>
<line x1="143.39" y1="414.77" x2="144.96" y2="414.77" stroke="#61798a" stroke-width="0.4" stroke-opacity="0.7"/>
<rect x="146.26" y="415.67" width="1.58" height="7.53" fill="#a9c8dc" stroke="none" stroke-width="1"/>
<line x1="146.26" y1="415.67" x2="146.26" y2="423.2" stroke="#61798a" stroke-width="0.45" stroke-opacity="0.8"/>
<line x1="147.83" y1="415.67" x2="147.83" y2="423.2" stroke="#61798a" stroke-width="0.3" stroke-opacity="0.55"/>
<line x1="146.26" y1="415.67" x2="147.83" y2="415.67" stroke="#61798a" stroke-width="0.4" stroke-opacity="0.7"/>
<rect x="149.13" y="415.94" width="1.58" height="7.26" fill="#a9c8dc" stroke="none" stroke-width="1"/>
<line x1="149.13" y1="415.94" x2="149.13" y2="423.2" stroke="#61798a" stroke-width="0.45" stroke-opacity="0.8"/>
<line x1="150.7" y1="415.94" x2="150.7" y2="423.2" stroke="#61798a" stroke-width="0.3" stroke-opacity="0.55"/>
<line x1="149.13" y1="415.94" x2="150.7" y2="415.94" stroke="#61798a" stroke-width="0.4" stroke-opacity="0.7"/>
<rect x="152" y="415.64" width="1.58" height="7.56" fill="#a9c8dc" stroke="none" stroke-width="1"/>
<line x1="152" y1="415.64" x2="152" y2="423.2" stroke="#61798a" stroke-width="0.45" stroke-opacity="0.8"/>
<line x1="153.58" y1="415.64" x2="153.58" y2="423.2" stroke="#61798a" stroke-width="0.3" stroke-opacity="0.55"/>
<line x1="152" y1="415.64" x2="153.58" y2="415.64" stroke="#61798a" stroke-width="0.4" stroke-opacity="0.7"/>
<rect x="154.87" y="416.45" width="1.58" height="6.75" fill="#a9c8dc" stroke="none" stroke-width="1"/>
<line x1="154.87" y1="416.45" x2="154.87" y2="423.2" stroke="#61798a" stroke-width="0.45" stroke-opacity="0.8"/>
<line x1="156.45" y1="416.45" x2="156.45" y2="423.2" stroke="#61798a" stroke-width="0.3" stroke-opacity="0.55"/>
<line x1="154.87" y1="416.45" x2="156.45" y2="416.45" stroke="#61798a" stroke-width="0.4" stroke-opacity="0.7"/>
<rect x="157.74" y="416.69" width="1.58" height="6.51" fill="#a9c8dc" stroke="none" stroke-width="1"/>
<line x1="157.74" y1="416.69" x2="157.74" y2="423.2" stroke="#61798a" stroke-width="0.45" stroke-opacity="0.8"/>
<line x1="159.32" y1="416.69" x2="159.32" y2="423.2" stroke="#61798a" stroke-width="0.3" stroke-opacity="0.55"/>
<line x1="157.74" y1="416.69" x2="159.32" y2="416.69" stroke="#61798a" stroke-width="0.4" stroke-opacity="0.7"/>
<rect x="160.61" y="416.42" width="1.58" height="6.78" fill="#a9c8dc" stroke="none" stroke-width="1"/>
<line x1="160.61" y1="416.42" x2="160.61" y2="423.2" stroke="#61798a" stroke-width="0.45" stroke-opacity="0.8"/>
<line x1="162.19" y1="416.42" x2="162.19" y2="423.2" stroke="#61798a" stroke-width="0.3" stroke-opacity="0.55"/>
<line x1="160.61" y1="416.42" x2="162.19" y2="416.42" stroke="#61798a" stroke-width="0.4" stroke-opacity="0.7"/>
<rect x="163.48" y="417.15" width="1.58" height="6.05" fill="#a9c8dc" stroke="none" stroke-width="1"/>
<line x1="163.48" y1="417.15" x2="163.48" y2="423.2" stroke="#61798a" stroke-width="0.45" stroke-opacity="0.8"/>
<line x1="165.06" y1="417.15" x2="165.06" y2="423.2" stroke="#61798a" stroke-width="0.3" stroke-opacity="0.55"/>
<line x1="163.48" y1="417.15" x2="165.06" y2="417.15" stroke="#61798a" stroke-width="0.4" stroke-opacity="0.7"/>
<rect x="166.35" y="417.36" width="1.58" height="5.84" fill="#a9c8dc" stroke="none" stroke-width="1"/>
<line x1="166.35" y1="417.36" x2="166.35" y2="423.2" stroke="#61798a" stroke-width="0.45" stroke-opacity="0.8"/>
<line x1="167.93" y1="417.36" x2="167.93" y2="423.2" stroke="#61798a" stroke-width="0.3" stroke-opacity="0.55"/>
<line x1="166.35" y1="417.36" x2="167.93" y2="417.36" stroke="#61798a" stroke-width="0.4" stroke-opacity="0.7"/>
<rect x="169.22" y="417.12" width="1.58" height="6.08" fill="#a9c8dc" stroke="none" stroke-width="1"/>
<line x1="169.22" y1="417.12" x2="169.22" y2="423.2" stroke="#61798a" stroke-width="0.45" stroke-opacity="0.8"/>
<line x1="170.8" y1="417.12" x2="170.8" y2="423.2" stroke="#61798a" stroke-width="0.3" stroke-opacity="0.55"/>
<line x1="169.22" y1="417.12" x2="170.8" y2="417.12" stroke="#61798a" stroke-width="0.4" stroke-opacity="0.7"/>
<rect x="172.09" y="417.77" width="1.58" height="5.43" fill="#a9c8dc" stroke="none" stroke-width="1"/>
<line x1="172.09" y1="417.77" x2="172.09" y2="423.2" stroke="#61798a" stroke-width="0.45" stroke-opacity="0.8"/>
<line x1="173.67" y1="417.77" x2="173.67" y2="423.2" stroke="#61798a" stroke-width="0.3" stroke-opacity="0.55"/>
<line x1="172.09" y1="417.77" x2="173.67" y2="417.77" stroke="#61798a" stroke-width="0.4" stroke-opacity="0.7"/>
<rect x="174.96" y="417.97" width="1.58" height="5.23" fill="#a9c8dc" stroke="none" stroke-width="1"/>
<line x1="174.96" y1="417.97" x2="174.96" y2="423.2" stroke="#61798a" stroke-width="0.45" stroke-opacity="0.8"/>
<line x1="176.54" y1="417.97" x2="176.54" y2="423.2" stroke="#61798a" stroke-width="0.3" stroke-opacity="0.55"/>
<line x1="174.96" y1="417.97" x2="176.54" y2="417.97" stroke="#61798a" stroke-width="0.4" stroke-opacity="0.7"/>
<rect x="177.83" y="417.75" width="1.58" height="5.45" fill="#a9c8dc" stroke="none" stroke-width="1"/>
<line x1="177.83" y1="417.75" x2="177.83" y2="423.2" stroke="#61798a" stroke-width="0.45" stroke-opacity="0.8"/>
<line x1="179.41" y1="417.75" x2="179.41" y2="423.2" stroke="#61798a" stroke-width="0.3" stroke-opacity="0.55"/>
<line x1="177.83" y1="417.75" x2="179.41" y2="417.75" stroke="#61798a" stroke-width="0.4" stroke-opacity="0.7"/>
<rect x="180.7" y="418.33" width="1.58" height="4.87" fill="#a9c8dc" stroke="none" stroke-width="1"/>
<line x1="180.7" y1="418.33" x2="180.7" y2="423.2" stroke="#61798a" stroke-width="0.45" stroke-opacity="0.8"/>
<line x1="182.28" y1="418.33" x2="182.28" y2="423.2" stroke="#61798a" stroke-width="0.3" stroke-opacity="0.55"/>
<line x1="180.7" y1="418.33" x2="182.28" y2="418.33" stroke="#61798a" stroke-width="0.4" stroke-opacity="0.7"/>
<rect x="183.57" y="418.51" width="1.58" height="4.69" fill="#a9c8dc" stroke="none" stroke-width="1"/>
<line x1="183.57" y1="418.51" x2="183.57" y2="423.2" stroke="#61798a" stroke-width="0.45" stroke-opacity="0.8"/>
<line x1="185.15" y1="418.51" x2="185.15" y2="423.2" stroke="#61798a" stroke-width="0.3" stroke-opacity="0.55"/>
<line x1="183.57" y1="418.51" x2="185.15" y2="418.51" stroke="#61798a" stroke-width="0.4" stroke-opacity="0.7"/>
<rect x="186.44" y="418.31" width="1.58" height="4.89" fill="#a9c8dc" stroke="none" stroke-width="1"/>
<line x1="186.44" y1="418.31" x2="186.44" y2="423.2" stroke="#61798a" stroke-width="0.45" stroke-opacity="0.8"/>
<line x1="188.02" y1="418.31" x2="188.02" y2="423.2" stroke="#61798a" stroke-width="0.3" stroke-opacity="0.55"/>
<line x1="186.44" y1="418.31" x2="188.02" y2="418.31" stroke="#61798a" stroke-width="0.4" stroke-opacity="0.7"/>
<rect x="189.31" y="418.84" width="1.58" height="4.36" fill="#a9c8dc" stroke="none" stroke-width="1"/>
<line x1="189.31" y1="418.84" x2="189.31" y2="423.2" stroke="#61798a" stroke-width="0.45" stroke-opacity="0.8"/>
<line x1="190.89" y1="418.84" x2="190.89" y2="423.2" stroke="#61798a" stroke-width="0.3" stroke-opacity="0.55"/>
<line x1="189.31" y1="418.84" x2="190.89" y2="418.84" stroke="#61798a" stroke-width="0.4" stroke-opacity="0.7"/>
<rect x="192.18" y="418.99" width="1.58" height="4.21" fill="#a9c8dc" stroke="none" stroke-width="1"/>
<line x1="192.18" y1="418.99" x2="192.18" y2="423.2" stroke="#61798a" stroke-width="0.45" stroke-opacity="0.8"/>
<line x1="193.76" y1="418.99" x2="193.76" y2="423.2" stroke="#61798a" stroke-width="0.3" stroke-opacity="0.55"/>
<line x1="192.18" y1="418.99" x2="193.76" y2="418.99" stroke="#61798a" stroke-width="0.4" stroke-opacity="0.7"/>
<rect x="195.05" y="418.82" width="1.58" height="4.38" fill="#a9c8dc" stroke="none" stroke-width="1"/>
<line x1="195.05" y1="418.82" x2="195.05" y2="423.2" stroke="#61798a" stroke-width="0.45" stroke-opacity="0.8"/>
<line x1="196.63" y1="418.82" x2="196.63" y2="423.2" stroke="#61798a" stroke-width="0.3" stroke-opacity="0.55"/>
<line x1="195.05" y1="418.82" x2="196.63" y2="418.82" stroke="#61798a" stroke-width="0.4" stroke-opacity="0.7"/>
<rect x="197.92" y="419.29" width="1.58" height="3.91" fill="#a9c8dc" stroke="none" stroke-width="1"/>
<line x1="197.92" y1="419.29" x2="197.92" y2="423.2" stroke="#61798a" stroke-width="0.45" stroke-opacity="0.8"/>
<line x1="199.5" y1="419.29" x2="199.5" y2="423.2" stroke="#61798a" stroke-width="0.3" stroke-opacity="0.55"/>
<line x1="197.92" y1="419.29" x2="199.5" y2="419.29" stroke="#61798a" stroke-width="0.4" stroke-opacity="0.7"/>
<rect x="200.8" y="419.43" width="1.58" height="3.77" fill="#a9c8dc" stroke="none" stroke-width="1"/>
<line x1="200.8" y1="419.43" x2="200.8" y2="423.2" stroke="#61798a" stroke-width="0.45" stroke-opacity="0.8"/>
<line x1="202.37" y1="419.43" x2="202.37" y2="423.2" stroke="#61798a" stroke-width="0.3" stroke-opacity="0.55"/>
<line x1="200.8" y1="419.43" x2="202.37" y2="419.43" stroke="#61798a" stroke-width="0.4" stroke-opacity="0.7"/>
<rect x="203.67" y="419.27" width="1.58" height="3.93" fill="#a9c8dc" stroke="none" stroke-width="1"/>
<line x1="203.67" y1="419.27" x2="203.67" y2="423.2" stroke="#61798a" stroke-width="0.45" stroke-opacity="0.8"/>
<line x1="205.24" y1="419.27" x2="205.24" y2="423.2" stroke="#61798a" stroke-width="0.3" stroke-opacity="0.55"/>
<line x1="203.67" y1="419.27" x2="205.24" y2="419.27" stroke="#61798a" stroke-width="0.4" stroke-opacity="0.7"/>
<rect x="206.54" y="419.69" width="1.58" height="3.51" fill="#a9c8dc" stroke="none" stroke-width="1"/>
<line x1="206.54" y1="419.69" x2="206.54" y2="423.2" stroke="#61798a" stroke-width="0.45" stroke-opacity="0.8"/>
<line x1="208.11" y1="419.69" x2="208.11" y2="423.2" stroke="#61798a" stroke-width="0.3" stroke-opacity="0.55"/>
<line x1="206.54" y1="419.69" x2="208.11" y2="419.69" stroke="#61798a" stroke-width="0.4" stroke-opacity="0.7"/>
<rect x="209.41" y="419.82" width="1.58" height="3.38" fill="#a9c8dc" stroke="none" stroke-width="1"/>
<line x1="209.41" y1="419.82" x2="209.41" y2="423.2" stroke="#61798a" stroke-width="0.45" stroke-opacity="0.8"/>
<line x1="210.99" y1="419.82" x2="210.99" y2="423.2" stroke="#61798a" stroke-width="0.3" stroke-opacity="0.55"/>
<line x1="209.41" y1="419.82" x2="210.99" y2="419.82" stroke="#61798a" stroke-width="0.4" stroke-opacity="0.7"/>
<rect x="212.28" y="419.68" width="1.58" height="3.52" fill="#a9c8dc" stroke="none" stroke-width="1"/>
<line x1="212.28" y1="419.68" x2="212.28" y2="423.2" stroke="#61798a" stroke-width="0.45" stroke-opacity="0.8"/>
<line x1="213.86" y1="419.68" x2="213.86" y2="423.2" stroke="#61798a" stroke-width="0.3" stroke-opacity="0.55"/>
<line x1="212.28" y1="419.68" x2="213.86" y2="419.68" stroke="#61798a" stroke-width="0.4" stroke-opacity="0.7"/>
<rect x="215.15" y="420.05" width="1.58" height="3.15" fill="#a9c8dc" stroke="none" stroke-width="1"/>
<line x1="215.15" y1="420.05" x2="215.15" y2="423.2" stroke="#61798a" stroke-width="0.45" stroke-opacity="0.8"/>
<line x1="216.73" y1="420.05" x2="216.73" y2="423.2" stroke="#61798a" stroke-width="0.3" stroke-opacity="0.55"/>
<line x1="215.15" y1="420.05" x2="216.73" y2="420.05" stroke="#61798a" stroke-width="0.4" stroke-opacity="0.7"/>
<rect x="218.02" y="420.17" width="1.58" height="3.03" fill="#a9c8dc" stroke="none" stroke-width="1"/>
<line x1="218.02" y1="420.17" x2="218.02" y2="423.2" stroke="#61798a" stroke-width="0.45" stroke-opacity="0.8"/>
<line x1="219.6" y1="420.17" x2="219.6" y2="423.2" stroke="#61798a" stroke-width="0.3" stroke-opacity="0.55"/>
<line x1="218.02" y1="420.17" x2="219.6" y2="420.17" stroke="#61798a" stroke-width="0.4" stroke-opacity="0.7"/>
<rect x="220.89" y="420.04" width="1.58" height="3.16" fill="#a9c8dc" stroke="none" stroke-width="1"/>
<line x1="220.89" y1="420.04" x2="220.89" y2="423.2" stroke="#61798a" stroke-width="0.45" stroke-opacity="0.8"/>
<line x1="222.47" y1="420.04" x2="222.47" y2="423.2" stroke="#61798a" stroke-width="0.3" stroke-opacity="0.55"/>
<line x1="220.89" y1="420.04" x2="222.47" y2="420.04" stroke="#61798a" stroke-width="0.4" stroke-opacity="0.7"/>
<rect x="223.76" y="420.38" width="1.58" height="2.82" fill="#a9c8dc" stroke="none" stroke-width="1"/>
<line x1="223.76" y1="420.38" x2="223.76" y2="423.2" stroke="#61798a" stroke-width="0.45" stroke-opacity="0.8"/>
<line x1="225.34" y1="420.38" x2="225.34" y2="423.2" stroke="#61798a" stroke-width="0.3" stroke-opacity="0.55"/>
<line x1="223.76" y1="420.38" x2="225.34" y2="420.38" stroke="#61798a" stroke-width="0.4" stroke-opacity="0.7"/>
<rect x="226.63" y="420.48" width="1.58" height="2.72" fill="#a9c8dc" stroke="none" stroke-width="1"/>
<line x1="226.63" y1="420.48" x2="226.63" y2="423.2" stroke="#61798a" stroke-width="0.45" stroke-opacity="0.8"/>
<line x1="228.21" y1="420.48" x2="228.21" y2="423.2" stroke="#61798a" stroke-width="0.3" stroke-opacity="0.55"/>
<line x1="226.63" y1="420.48" x2="228.21" y2="420.48" stroke="#61798a" stroke-width="0.4" stroke-opacity="0.7"/>
<rect x="229.5" y="420.37" width="1.58" height="2.83" fill="#a9c8dc" stroke="none" stroke-width="1"/>
<line x1="229.5" y1="420.37" x2="229.5" y2="423.2" stroke="#61798a" stroke-width="0.45" stroke-opacity="0.8"/>
<line x1="231.08" y1="420.37" x2="231.08" y2="423.2" stroke="#61798a" stroke-width="0.3" stroke-opacity="0.55"/>
<line x1="229.5" y1="420.37" x2="231.08" y2="420.37" stroke="#61798a" stroke-width="0.4" stroke-opacity="0.7"/>
<rect x="232.37" y="420.67" width="1.58" height="2.53" fill="#a9c8dc" stroke="none" stroke-width="1"/>
<line x1="232.37" y1="420.67" x2="232.37" y2="423.2" stroke="#61798a" stroke-width="0.45" stroke-opacity="0.8"/>
<line x1="233.95" y1="420.67" x2="233.95" y2="423.2" stroke="#61798a" stroke-width="0.3" stroke-opacity="0.55"/>
<line x1="232.37" y1="420.67" x2="233.95" y2="420.67" stroke="#61798a" stroke-width="0.4" stroke-opacity="0.7"/>
<rect x="235.24" y="420.76" width="1.58" height="2.44" fill="#a9c8dc" stroke="none" stroke-width="1"/>
<line x1="235.24" y1="420.76" x2="235.24" y2="423.2" stroke="#61798a" stroke-width="0.45" stroke-opacity="0.8"/>
<line x1="236.82" y1="420.76" x2="236.82" y2="423.2" stroke="#61798a" stroke-width="0.3" stroke-opacity="0.55"/>
<line x1="235.24" y1="420.76" x2="236.82" y2="420.76" stroke="#61798a" stroke-width="0.4" stroke-opacity="0.7"/>
<rect x="238.11" y="420.66" width="1.58" height="2.54" fill="#a9c8dc" stroke="none" stroke-width="1"/>
<line x1="238.11" y1="420.66" x2="238.11" y2="423.2" stroke="#61798a" stroke-width="0.45" stroke-opacity="0.8"/>
<line x1="239.69" y1="420.66" x2="239.69" y2="423.2" stroke="#61798a" stroke-width="0.3" stroke-opacity="0.55"/>
<line x1="238.11" y1="420.66" x2="239.69" y2="420.66" stroke="#61798a" stroke-width="0.4" stroke-opacity="0.7"/>
<rect x="240.98" y="420.93" width="1.58" height="2.27" fill="#a9c8dc" stroke="none" stroke-width="1"/>
<line x1="240.98" y1="420.93" x2="240.98" y2="423.2" stroke="#61798a" stroke-width="0.45" stroke-opacity="0.8"/>
<line x1="242.56" y1="420.93" x2="242.56" y2="423.2" stroke="#61798a" stroke-width="0.3" stroke-opacity="0.55"/>
<line x1="240.98" y1="420.93" x2="242.56" y2="420.93" stroke="#61798a" stroke-width="0.4" stroke-opacity="0.7"/>
<rect x="243.85" y="421.01" width="1.58" height="2.19" fill="#a9c8dc" stroke="none" stroke-width="1"/>
<line x1="243.85" y1="421.01" x2="243.85" y2="423.2" stroke="#61798a" stroke-width="0.45" stroke-opacity="0.8"/>
<line x1="245.43" y1="421.01" x2="245.43" y2="423.2" stroke="#61798a" stroke-width="0.3" stroke-opacity="0.55"/>
<line x1="243.85" y1="421.01" x2="245.43" y2="421.01" stroke="#61798a" stroke-width="0.4" stroke-opacity="0.7"/>
<rect x="246.72" y="420.92" width="1.58" height="2.28" fill="#a9c8dc" stroke="none" stroke-width="1"/>
<line x1="246.72" y1="420.92" x2="246.72" y2="423.2" stroke="#61798a" stroke-width="0.45" stroke-opacity="0.8"/>
<line x1="248.3" y1="420.92" x2="248.3" y2="423.2" stroke="#61798a" stroke-width="0.3" stroke-opacity="0.55"/>
<line x1="246.72" y1="420.92" x2="248.3" y2="420.92" stroke="#61798a" stroke-width="0.4" stroke-opacity="0.7"/>
<rect x="249.59" y="421.17" width="1.58" height="2.03" fill="#a9c8dc" stroke="none" stroke-width="1"/>
<line x1="249.59" y1="421.17" x2="249.59" y2="423.2" stroke="#61798a" stroke-width="0.45" stroke-opacity="0.8"/>
<line x1="251.17" y1="421.17" x2="251.17" y2="423.2" stroke="#61798a" stroke-width="0.3" stroke-opacity="0.55"/>
<line x1="249.59" y1="421.17" x2="251.17" y2="421.17" stroke="#61798a" stroke-width="0.4" stroke-opacity="0.7"/>
<rect x="252.46" y="421.24" width="1.58" height="1.96" fill="#a9c8dc" stroke="none" stroke-width="1"/>
<line x1="252.46" y1="421.24" x2="252.46" y2="423.2" stroke="#61798a" stroke-width="0.45" stroke-opacity="0.8"/>
<line x1="254.04" y1="421.24" x2="254.04" y2="423.2" stroke="#61798a" stroke-width="0.3" stroke-opacity="0.55"/>
<line x1="252.46" y1="421.24" x2="254.04" y2="421.24" stroke="#61798a" stroke-width="0.4" stroke-opacity="0.7"/>
<rect x="255.33" y="421.16" width="1.58" height="2.04" fill="#a9c8dc" stroke="none" stroke-width="1"/>
<line x1="255.33" y1="421.16" x2="255.33" y2="423.2" stroke="#61798a" stroke-width="0.45" stroke-opacity="0.8"/>
<line x1="256.91" y1="421.16" x2="256.91" y2="423.2" stroke="#61798a" stroke-width="0.3" stroke-opacity="0.55"/>
<line x1="255.33" y1="421.16" x2="256.91" y2="421.16" stroke="#61798a" stroke-width="0.4" stroke-opacity="0.7"/>
<rect x="258.21" y="421.38" width="1.58" height="1.82" fill="#a9c8dc" stroke="none" stroke-width="1"/>
<line x1="258.21" y1="421.38" x2="258.21" y2="423.2" stroke="#61798a" stroke-width="0.45" stroke-opacity="0.8"/>
<line x1="259.78" y1="421.38" x2="259.78" y2="423.2" stroke="#61798a" stroke-width="0.3" stroke-opacity="0.55"/>
<line x1="258.21" y1="421.38" x2="259.78" y2="421.38" stroke="#61798a" stroke-width="0.4" stroke-opacity="0.7"/>
<rect x="261.08" y="421.44" width="1.58" height="1.76" fill="#a9c8dc" stroke="none" stroke-width="1"/>
<line x1="261.08" y1="421.44" x2="261.08" y2="423.2" stroke="#61798a" stroke-width="0.45" stroke-opacity="0.8"/>
<line x1="262.65" y1="421.44" x2="262.65" y2="423.2" stroke="#61798a" stroke-width="0.3" stroke-opacity="0.55"/>
<line x1="261.08" y1="421.44" x2="262.65" y2="421.44" stroke="#61798a" stroke-width="0.4" stroke-opacity="0.7"/>
<rect x="263.95" y="421.37" width="1.58" height="1.83" fill="#a9c8dc" stroke="none" stroke-width="1"/>
<line x1="263.95" y1="421.37" x2="263.95" y2="423.2" stroke="#61798a" stroke-width="0.45" stroke-opacity="0.8"/>
<line x1="265.52" y1="421.37" x2="265.52" y2="423.2" stroke="#61798a" stroke-width="0.3" stroke-opacity="0.55"/>
<line x1="263.95" y1="421.37" x2="265.52" y2="421.37" stroke="#61798a" stroke-width="0.4" stroke-opacity="0.7"/>
<rect x="266.82" y="421.56" width="1.58" height="1.64" fill="#a9c8dc" stroke="none" stroke-width="1"/>
<line x1="266.82" y1="421.56" x2="266.82" y2="423.2" stroke="#61798a" stroke-width="0.45" stroke-opacity="0.8"/>
<line x1="268.4" y1="421.56" x2="268.4" y2="423.2" stroke="#61798a" stroke-width="0.3" stroke-opacity="0.55"/>
<line x1="266.82" y1="421.56" x2="268.4" y2="421.56" stroke="#61798a" stroke-width="0.4" stroke-opacity="0.7"/>
<rect x="269.69" y="421.62" width="1.58" height="1.58" fill="#a9c8dc" stroke="none" stroke-width="1"/>
<line x1="269.69" y1="421.62" x2="269.69" y2="423.2" stroke="#61798a" stroke-width="0.45" stroke-opacity="0.8"/>
<line x1="271.27" y1="421.62" x2="271.27" y2="423.2" stroke="#61798a" stroke-width="0.3" stroke-opacity="0.55"/>
<line x1="269.69" y1="421.62" x2="271.27" y2="421.62" stroke="#61798a" stroke-width="0.4" stroke-opacity="0.7"/>
<rect x="272.56" y="421.56" width="1.58" height="1.64" fill="#a9c8dc" stroke="none" stroke-width="1"/>
<line x1="272.56" y1="421.56" x2="272.56" y2="423.2" stroke="#61798a" stroke-width="0.45" stroke-opacity="0.8"/>
<line x1="274.14" y1="421.56" x2="274.14" y2="423.2" stroke="#61798a" stroke-width="0.3" stroke-opacity="0.55"/>
<line x1="272.56" y1="421.56" x2="274.14" y2="421.56" stroke="#61798a" stroke-width="0.4" stroke-opacity="0.7"/>
<rect x="275.43" y="421.73" width="1.58" height="1.47" fill="#a9c8dc" stroke="none" stroke-width="1"/>
<line x1="275.43" y1="421.73" x2="275.43" y2="423.2" stroke="#61798a" stroke-width="0.45" stroke-opacity="0.8"/>
<line x1="277.01" y1="421.73" x2="277.01" y2="423.2" stroke="#61798a" stroke-width="0.3" stroke-opacity="0.55"/>
<line x1="275.43" y1="421.73" x2="277.01" y2="421.73" stroke="#61798a" stroke-width="0.4" stroke-opacity="0.7"/>
<rect x="278.3" y="421.79" width="1.58" height="1.41" fill="#a9c8dc" stroke="none" stroke-width="1"/>
<line x1="278.3" y1="421.79" x2="278.3" y2="423.2" stroke="#61798a" stroke-width="0.45" stroke-opacity="0.8"/>
<line x1="279.88" y1="421.79" x2="279.88" y2="423.2" stroke="#61798a" stroke-width="0.3" stroke-opacity="0.55"/>
<line x1="278.3" y1="421.79" x2="279.88" y2="421.79" stroke="#61798a" stroke-width="0.4" stroke-opacity="0.7"/>
<rect x="281.17" y="421.73" width="1.58" height="1.47" fill="#a9c8dc" stroke="none" stroke-width="1"/>
<line x1="281.17" y1="421.73" x2="281.17" y2="423.2" stroke="#61798a" stroke-width="0.45" stroke-opacity="0.8"/>
<line x1="282.75" y1="421.73" x2="282.75" y2="423.2" stroke="#61798a" stroke-width="0.3" stroke-opacity="0.55"/>
<line x1="281.17" y1="421.73" x2="282.75" y2="421.73" stroke="#61798a" stroke-width="0.4" stroke-opacity="0.7"/>
<rect x="284.04" y="421.89" width="1.58" height="1.31" fill="#a9c8dc" stroke="none" stroke-width="1"/>
<line x1="284.04" y1="421.89" x2="284.04" y2="423.2" stroke="#61798a" stroke-width="0.45" stroke-opacity="0.8"/>
<line x1="285.62" y1="421.89" x2="285.62" y2="423.2" stroke="#61798a" stroke-width="0.3" stroke-opacity="0.55"/>
<line x1="284.04" y1="421.89" x2="285.62" y2="421.89" stroke="#61798a" stroke-width="0.4" stroke-opacity="0.7"/>
<rect x="286.91" y="421.93" width="1.58" height="1.27" fill="#a9c8dc" stroke="none" stroke-width="1"/>
<line x1="286.91" y1="421.93" x2="286.91" y2="423.2" stroke="#61798a" stroke-width="0.45" stroke-opacity="0.8"/>
<line x1="288.49" y1="421.93" x2="288.49" y2="423.2" stroke="#61798a" stroke-width="0.3" stroke-opacity="0.55"/>
<line x1="286.91" y1="421.93" x2="288.49" y2="421.93" stroke="#61798a" stroke-width="0.4" stroke-opacity="0.7"/>
<rect x="289.78" y="421.88" width="1.58" height="1.32" fill="#a9c8dc" stroke="none" stroke-width="1"/>
<line x1="289.78" y1="421.88" x2="289.78" y2="423.2" stroke="#61798a" stroke-width="0.45" stroke-opacity="0.8"/>
<line x1="291.36" y1="421.88" x2="291.36" y2="423.2" stroke="#61798a" stroke-width="0.3" stroke-opacity="0.55"/>
<line x1="289.78" y1="421.88" x2="291.36" y2="421.88" stroke="#61798a" stroke-width="0.4" stroke-opacity="0.7"/>
<rect x="292.65" y="422.02" width="1.58" height="1.18" fill="#a9c8dc" stroke="none" stroke-width="1"/>
<line x1="292.65" y1="422.02" x2="292.65" y2="423.2" stroke="#61798a" stroke-width="0.45" stroke-opacity="0.8"/>
<line x1="294.23" y1="422.02" x2="294.23" y2="423.2" stroke="#61798a" stroke-width="0.3" stroke-opacity="0.55"/>
<line x1="292.65" y1="422.02" x2="294.23" y2="422.02" stroke="#61798a" stroke-width="0.4" stroke-opacity="0.7"/>
<rect x="295.52" y="422.06" width="1.58" height="1.14" fill="#a9c8dc" stroke="none" stroke-width="1"/>
<line x1="295.52" y1="422.06" x2="295.52" y2="423.2" stroke="#61798a" stroke-width="0.45" stroke-opacity="0.8"/>
<line x1="297.1" y1="422.06" x2="297.1" y2="423.2" stroke="#61798a" stroke-width="0.3" stroke-opacity="0.55"/>
<line x1="295.52" y1="422.06" x2="297.1" y2="422.06" stroke="#61798a" stroke-width="0.4" stroke-opacity="0.7"/>
<rect x="298.39" y="422.02" width="1.58" height="1.18" fill="#a9c8dc" stroke="none" stroke-width="1"/>
<line x1="298.39" y1="422.02" x2="298.39" y2="423.2" stroke="#61798a" stroke-width="0.45" stroke-opacity="0.8"/>
<line x1="299.97" y1="422.02" x2="299.97" y2="423.2" stroke="#61798a" stroke-width="0.3" stroke-opacity="0.55"/>
<line x1="298.39" y1="422.02" x2="299.97" y2="422.02" stroke="#61798a" stroke-width="0.4" stroke-opacity="0.7"/>
<rect x="301.26" y="422.14" width="1.58" height="1.06" fill="#a9c8dc" stroke="none" stroke-width="1"/>
<line x1="301.26" y1="422.14" x2="301.26" y2="423.2" stroke="#61798a" stroke-width="0.45" stroke-opacity="0.8"/>
<line x1="302.84" y1="422.14" x2="302.84" y2="423.2" stroke="#61798a" stroke-width="0.3" stroke-opacity="0.55"/>
<line x1="301.26" y1="422.14" x2="302.84" y2="422.14" stroke="#61798a" stroke-width="0.4" stroke-opacity="0.7"/>
<rect x="304.13" y="422.18" width="1.58" height="1.02" fill="#a9c8dc" stroke="none" stroke-width="1"/>
<line x1="304.13" y1="422.18" x2="304.13" y2="423.2" stroke="#61798a" stroke-width="0.45" stroke-opacity="0.8"/>
<line x1="305.71" y1="422.18" x2="305.71" y2="423.2" stroke="#61798a" stroke-width="0.3" stroke-opacity="0.55"/>
<line x1="304.13" y1="422.18" x2="305.71" y2="422.18" stroke="#61798a" stroke-width="0.4" stroke-opacity="0.7"/>
<rect x="307" y="422.14" width="1.58" height="1.06" fill="#a9c8dc" stroke="none" stroke-width="1"/>
<line x1="307" y1="422.14" x2="307" y2="423.2" stroke="#61798a" stroke-width="0.45" stroke-opacity="0.8"/>
<line x1="308.58" y1="422.14" x2="308.58" y2="423.2" stroke="#61798a" stroke-width="0.3" stroke-opacity="0.55"/>
<line x1="307" y1="422.14" x2="308.58" y2="422.14" stroke="#61798a" stroke-width="0.4" stroke-opacity="0.7"/>
<rect x="309.87" y="422.25" width="1.58" height="0.95" fill="#a9c8dc" stroke="none" stroke-width="1"/>
<line x1="309.87" y1="422.25" x2="309.87" y2="423.2" stroke="#61798a" stroke-width="0.45" stroke-opacity="0.8"/>
<line x1="311.45" y1="422.25" x2="311.45" y2="423.2" stroke="#61798a" stroke-width="0.3" stroke-opacity="0.55"/>
<line x1="309.87" y1="422.25" x2="311.45" y2="422.25" stroke="#61798a" stroke-width="0.4" stroke-opacity="0.7"/>
<rect x="312.74" y="422.29" width="1.58" height="0.91" fill="#a9c8dc" stroke="none" stroke-width="1"/>
<line x1="312.74" y1="422.29" x2="312.74" y2="423.2" stroke="#61798a" stroke-width="0.45" stroke-opacity="0.8"/>
<line x1="314.32" y1="422.29" x2="314.32" y2="423.2" stroke="#61798a" stroke-width="0.3" stroke-opacity="0.55"/>
<line x1="312.74" y1="422.29" x2="314.32" y2="422.29" stroke="#61798a" stroke-width="0.4" stroke-opacity="0.7"/>
<rect x="315.62" y="422.25" width="1.58" height="0.95" fill="#a9c8dc" stroke="none" stroke-width="1"/>
<line x1="315.62" y1="422.25" x2="315.62" y2="423.2" stroke="#61798a" stroke-width="0.45" stroke-opacity="0.8"/>
<line x1="317.19" y1="422.25" x2="317.19" y2="423.2" stroke="#61798a" stroke-width="0.3" stroke-opacity="0.55"/>
<line x1="315.62" y1="422.25" x2="317.19" y2="422.25" stroke="#61798a" stroke-width="0.4" stroke-opacity="0.7"/>
<rect x="318.49" y="422.35" width="1.58" height="0.85" fill="#a9c8dc" stroke="none" stroke-width="1"/>
<line x1="318.49" y1="422.35" x2="318.49" y2="423.2" stroke="#61798a" stroke-width="0.45" stroke-opacity="0.8"/>
<line x1="320.06" y1="422.35" x2="320.06" y2="423.2" stroke="#61798a" stroke-width="0.3" stroke-opacity="0.55"/>
<line x1="318.49" y1="422.35" x2="320.06" y2="422.35" stroke="#61798a" stroke-width="0.4" stroke-opacity="0.7"/>
<rect x="321.36" y="422.38" width="1.58" height="0.82" fill="#a9c8dc" stroke="none" stroke-width="1"/>
<line x1="321.36" y1="422.38" x2="321.36" y2="423.2" stroke="#61798a" stroke-width="0.45" stroke-opacity="0.8"/>
<line x1="322.93" y1="422.38" x2="322.93" y2="423.2" stroke="#61798a" stroke-width="0.3" stroke-opacity="0.55"/>
<line x1="321.36" y1="422.38" x2="322.93" y2="422.38" stroke="#61798a" stroke-width="0.4" stroke-opacity="0.7"/>
<rect x="324.23" y="422.35" width="1.58" height="0.85" fill="#a9c8dc" stroke="none" stroke-width="1"/>
<line x1="324.23" y1="422.35" x2="324.23" y2="423.2" stroke="#61798a" stroke-width="0.45" stroke-opacity="0.8"/>
<line x1="325.81" y1="422.35" x2="325.81" y2="423.2" stroke="#61798a" stroke-width="0.3" stroke-opacity="0.55"/>
<line x1="324.23" y1="422.35" x2="325.81" y2="422.35" stroke="#61798a" stroke-width="0.4" stroke-opacity="0.7"/>
<rect x="327.1" y="422.44" width="1.58" height="0.76" fill="#a9c8dc" stroke="none" stroke-width="1"/>
<line x1="327.1" y1="422.44" x2="327.1" y2="423.2" stroke="#61798a" stroke-width="0.45" stroke-opacity="0.8"/>
<line x1="328.68" y1="422.44" x2="328.68" y2="423.2" stroke="#61798a" stroke-width="0.3" stroke-opacity="0.55"/>
<line x1="327.1" y1="422.44" x2="328.68" y2="422.44" stroke="#61798a" stroke-width="0.4" stroke-opacity="0.7"/>
<rect x="55.91" y="394.31" width="1.44" height="28.89" fill="#84a4b7" stroke="none" stroke-width="1"/>
<line x1="55.91" y1="394.31" x2="57.34" y2="394.31" stroke="#61798a" stroke-width="0.3" stroke-opacity="0.6"/>
<rect x="58.78" y="410.15" width="1.44" height="13.05" fill="#84a4b7" stroke="none" stroke-width="1"/>
<line x1="58.78" y1="410.15" x2="60.21" y2="410.15" stroke="#61798a" stroke-width="0.3" stroke-opacity="0.6"/>
<rect x="61.65" y="371.01" width="1.44" height="52.19" fill="#84a4b7" stroke="none" stroke-width="1"/>
<line x1="61.65" y1="371.01" x2="63.08" y2="371.01" stroke="#61798a" stroke-width="0.3" stroke-opacity="0.6"/>
<rect x="64.52" y="419.24" width="1.44" height="3.96" fill="#84a4b7" stroke="none" stroke-width="1"/>
<line x1="64.52" y1="419.24" x2="65.95" y2="419.24" stroke="#61798a" stroke-width="0.3" stroke-opacity="0.6"/>
<rect x="67.39" y="419.94" width="1.44" height="3.26" fill="#84a4b7" stroke="none" stroke-width="1"/>
<line x1="67.39" y1="419.94" x2="68.82" y2="419.94" stroke="#61798a" stroke-width="0.3" stroke-opacity="0.6"/>
<rect x="70.26" y="410.38" width="1.44" height="12.81" fill="#84a4b7" stroke="none" stroke-width="1"/>
<line x1="70.26" y1="410.38" x2="71.69" y2="410.38" stroke="#61798a" stroke-width="0.3" stroke-opacity="0.6"/>
<rect x="73.13" y="420.4" width="1.44" height="2.8" fill="#84a4b7" stroke="none" stroke-width="1"/>
<line x1="73.13" y1="420.4" x2="74.56" y2="420.4" stroke="#61798a" stroke-width="0.3" stroke-opacity="0.6"/>
<rect x="76" y="417.47" width="1.44" height="5.73" fill="#84a4b7" stroke="none" stroke-width="1"/>
<line x1="76" y1="417.47" x2="77.44" y2="417.47" stroke="#61798a" stroke-width="0.3" stroke-opacity="0.6"/>
<rect x="78.87" y="414.91" width="1.44" height="8.29" fill="#84a4b7" stroke="none" stroke-width="1"/>
<line x1="78.87" y1="414.91" x2="80.31" y2="414.91" stroke="#61798a" stroke-width="0.3" stroke-opacity="0.6"/>
<rect x="81.74" y="418.19" width="1.44" height="5.01" fill="#84a4b7" stroke="none" stroke-width="1"/>
<line x1="81.74" y1="418.19" x2="83.18" y2="418.19" stroke="#61798a" stroke-width="0.3" stroke-opacity="0.6"/>
<rect x="84.61" y="417.47" width="1.44" height="5.73" fill="#84a4b7" stroke="none" stroke-width="1"/>
<line x1="84.61" y1="417.47" x2="86.05" y2="417.47" stroke="#61798a" stroke-width="0.3" stroke-opacity="0.6"/>
<rect x="87.48" y="415.51" width="1.44" height="7.69" fill="#84a4b7" stroke="none" stroke-width="1"/>
<line x1="87.48" y1="415.51" x2="88.92" y2="415.51" stroke="#61798a" stroke-width="0.3" stroke-opacity="0.6"/>
<rect x="90.35" y="417.14" width="1.44" height="6.06" fill="#84a4b7" stroke="none" stroke-width="1"/>
<line x1="90.35" y1="417.14" x2="91.79" y2="417.14" stroke="#61798a" stroke-width="0.3" stroke-opacity="0.6"/>
<rect x="93.22" y="418.19" width="1.44" height="5.01" fill="#84a4b7" stroke="none" stroke-width="1"/>
<line x1="93.22" y1="418.19" x2="94.66" y2="418.19" stroke="#61798a" stroke-width="0.3" stroke-opacity="0.6"/>
<rect x="96.09" y="416.21" width="1.44" height="6.99" fill="#84a4b7" stroke="none" stroke-width="1"/>
<line x1="96.09" y1="416.21" x2="97.53" y2="416.21" stroke="#61798a" stroke-width="0.3" stroke-opacity="0.6"/>
<rect x="98.96" y="417.9" width="1.44" height="5.3" fill="#84a4b7" stroke="none" stroke-width="1"/>
<line x1="98.96" y1="417.9" x2="100.4" y2="417.9" stroke="#61798a" stroke-width="0.3" stroke-opacity="0.6"/>
<rect x="101.83" y="418.03" width="1.44" height="5.17" fill="#84a4b7" stroke="none" stroke-width="1"/>
<line x1="101.83" y1="418.03" x2="103.27" y2="418.03" stroke="#61798a" stroke-width="0.3" stroke-opacity="0.6"/>
<rect x="104.71" y="417.39" width="1.44" height="5.81" fill="#84a4b7" stroke="none" stroke-width="1"/>
<line x1="104.71" y1="417.39" x2="106.14" y2="417.39" stroke="#61798a" stroke-width="0.3" stroke-opacity="0.6"/>
<rect x="107.58" y="418.26" width="1.44" height="4.94" fill="#84a4b7" stroke="none" stroke-width="1"/>
<line x1="107.58" y1="418.26" x2="109.01" y2="418.26" stroke="#61798a" stroke-width="0.3" stroke-opacity="0.6"/>
<rect x="110.45" y="418.38" width="1.44" height="4.82" fill="#84a4b7" stroke="none" stroke-width="1"/>
<line x1="110.45" y1="418.38" x2="111.88" y2="418.38" stroke="#61798a" stroke-width="0.3" stroke-opacity="0.6"/>
<rect x="113.32" y="417.79" width="1.44" height="5.41" fill="#84a4b7" stroke="none" stroke-width="1"/>
<line x1="113.32" y1="417.79" x2="114.75" y2="417.79" stroke="#61798a" stroke-width="0.3" stroke-opacity="0.6"/>
<rect x="116.19" y="418.6" width="1.44" height="4.6" fill="#84a4b7" stroke="none" stroke-width="1"/>
<line x1="116.19" y1="418.6" x2="117.62" y2="418.6" stroke="#61798a" stroke-width="0.3" stroke-opacity="0.6"/>
<rect x="119.06" y="418.71" width="1.44" height="4.49" fill="#84a4b7" stroke="none" stroke-width="1"/>
<line x1="119.06" y1="418.71" x2="120.49" y2="418.71" stroke="#61798a" stroke-width="0.3" stroke-opacity="0.6"/>
<rect x="121.93" y="418.15" width="1.44" height="5.05" fill="#84a4b7" stroke="none" stroke-width="1"/>
<line x1="121.93" y1="418.15" x2="123.36" y2="418.15" stroke="#61798a" stroke-width="0.3" stroke-opacity="0.6"/>
<rect x="124.8" y="418.91" width="1.44" height="4.29" fill="#84a4b7" stroke="none" stroke-width="1"/>
<line x1="124.8" y1="418.91" x2="126.23" y2="418.91" stroke="#61798a" stroke-width="0.3" stroke-opacity="0.6"/>
<rect x="127.67" y="419.01" width="1.44" height="4.19" fill="#84a4b7" stroke="none" stroke-width="1"/>
<line x1="127.67" y1="419.01" x2="129.1" y2="419.01" stroke="#61798a" stroke-width="0.3" stroke-opacity="0.6"/>
<rect x="130.54" y="418.5" width="1.44" height="4.7" fill="#84a4b7" stroke="none" stroke-width="1"/>
<line x1="130.54" y1="418.5" x2="131.97" y2="418.5" stroke="#61798a" stroke-width="0.3" stroke-opacity="0.6"/>
<rect x="133.41" y="419.21" width="1.44" height="3.99" fill="#84a4b7" stroke="none" stroke-width="1"/>
<line x1="133.41" y1="419.21" x2="134.85" y2="419.21" stroke="#61798a" stroke-width="0.3" stroke-opacity="0.6"/>
<rect x="136.28" y="419.3" width="1.44" height="3.9" fill="#84a4b7" stroke="none" stroke-width="1"/>
<line x1="136.28" y1="419.3" x2="137.72" y2="419.3" stroke="#61798a" stroke-width="0.3" stroke-opacity="0.6"/>
<rect x="139.15" y="418.82" width="1.44" height="4.38" fill="#84a4b7" stroke="none" stroke-width="1"/>
<line x1="139.15" y1="418.82" x2="140.59" y2="418.82" stroke="#61798a" stroke-width="0.3" stroke-opacity="0.6"/>
<rect x="142.02" y="419.48" width="1.44" height="3.72" fill="#84a4b7" stroke="none" stroke-width="1"/>
<line x1="142.02" y1="419.48" x2="143.46" y2="419.48" stroke="#61798a" stroke-width="0.3" stroke-opacity="0.6"/>
<rect x="144.89" y="419.57" width="1.44" height="3.63" fill="#84a4b7" stroke="none" stroke-width="1"/>
<line x1="144.89" y1="419.57" x2="146.33" y2="419.57" stroke="#61798a" stroke-width="0.3" stroke-opacity="0.6"/>
<rect x="147.76" y="419.12" width="1.44" height="4.08" fill="#84a4b7" stroke="none" stroke-width="1"/>
<line x1="147.76" y1="419.12" x2="149.2" y2="419.12" stroke="#61798a" stroke-width="0.3" stroke-opacity="0.6"/>
<rect x="150.63" y="419.73" width="1.44" height="3.47" fill="#84a4b7" stroke="none" stroke-width="1"/>
<line x1="150.63" y1="419.73" x2="152.07" y2="419.73" stroke="#61798a" stroke-width="0.3" stroke-opacity="0.6"/>
<rect x="153.5" y="419.81" width="1.44" height="3.39" fill="#84a4b7" stroke="none" stroke-width="1"/>
<line x1="153.5" y1="419.81" x2="154.94" y2="419.81" stroke="#61798a" stroke-width="0.3" stroke-opacity="0.6"/>
<rect x="156.37" y="419.4" width="1.44" height="3.8" fill="#84a4b7" stroke="none" stroke-width="1"/>
<line x1="156.37" y1="419.4" x2="157.81" y2="419.4" stroke="#61798a" stroke-width="0.3" stroke-opacity="0.6"/>
<rect x="159.24" y="419.97" width="1.44" height="3.23" fill="#84a4b7" stroke="none" stroke-width="1"/>
<line x1="159.24" y1="419.97" x2="160.68" y2="419.97" stroke="#61798a" stroke-width="0.3" stroke-opacity="0.6"/>
<rect x="162.12" y="420.04" width="1.44" height="3.16" fill="#84a4b7" stroke="none" stroke-width="1"/>
<line x1="162.12" y1="420.04" x2="163.55" y2="420.04" stroke="#61798a" stroke-width="0.3" stroke-opacity="0.6"/>
<rect x="164.99" y="419.65" width="1.44" height="3.55" fill="#84a4b7" stroke="none" stroke-width="1"/>
<line x1="164.99" y1="419.65" x2="166.42" y2="419.65" stroke="#61798a" stroke-width="0.3" stroke-opacity="0.6"/>
<rect x="167.86" y="420.19" width="1.44" height="3.01" fill="#84a4b7" stroke="none" stroke-width="1"/>
<line x1="167.86" y1="420.19" x2="169.29" y2="420.19" stroke="#61798a" stroke-width="0.3" stroke-opacity="0.6"/>
<rect x="170.73" y="420.26" width="1.44" height="2.94" fill="#84a4b7" stroke="none" stroke-width="1"/>
<line x1="170.73" y1="420.26" x2="172.16" y2="420.26" stroke="#61798a" stroke-width="0.3" stroke-opacity="0.6"/>
<rect x="173.6" y="419.9" width="1.44" height="3.3" fill="#84a4b7" stroke="none" stroke-width="1"/>
<line x1="173.6" y1="419.9" x2="175.03" y2="419.9" stroke="#61798a" stroke-width="0.3" stroke-opacity="0.6"/>
<rect x="176.47" y="420.39" width="1.44" height="2.81" fill="#84a4b7" stroke="none" stroke-width="1"/>
<line x1="176.47" y1="420.39" x2="177.9" y2="420.39" stroke="#61798a" stroke-width="0.3" stroke-opacity="0.6"/>
<rect x="179.34" y="420.46" width="1.44" height="2.74" fill="#84a4b7" stroke="none" stroke-width="1"/>
<line x1="179.34" y1="420.46" x2="180.77" y2="420.46" stroke="#61798a" stroke-width="0.3" stroke-opacity="0.6"/>
<rect x="182.21" y="420.12" width="1.44" height="3.08" fill="#84a4b7" stroke="none" stroke-width="1"/>
<line x1="182.21" y1="420.12" x2="183.64" y2="420.12" stroke="#61798a" stroke-width="0.3" stroke-opacity="0.6"/>
<rect x="185.08" y="420.59" width="1.44" height="2.61" fill="#84a4b7" stroke="none" stroke-width="1"/>
<line x1="185.08" y1="420.59" x2="186.51" y2="420.59" stroke="#61798a" stroke-width="0.3" stroke-opacity="0.6"/>
<rect x="187.95" y="420.65" width="1.44" height="2.55" fill="#84a4b7" stroke="none" stroke-width="1"/>
<line x1="187.95" y1="420.65" x2="189.38" y2="420.65" stroke="#61798a" stroke-width="0.3" stroke-opacity="0.6"/>
<rect x="190.82" y="420.33" width="1.44" height="2.87" fill="#84a4b7" stroke="none" stroke-width="1"/>
<line x1="190.82" y1="420.33" x2="192.26" y2="420.33" stroke="#61798a" stroke-width="0.3" stroke-opacity="0.6"/>
<rect x="193.69" y="420.76" width="1.44" height="2.44" fill="#84a4b7" stroke="none" stroke-width="1"/>
<line x1="193.69" y1="420.76" x2="195.13" y2="420.76" stroke="#61798a" stroke-width="0.3" stroke-opacity="0.6"/>
<rect x="196.56" y="420.82" width="1.44" height="2.38" fill="#84a4b7" stroke="none" stroke-width="1"/>
<line x1="196.56" y1="420.82" x2="198" y2="420.82" stroke="#61798a" stroke-width="0.3" stroke-opacity="0.6"/>
<rect x="199.43" y="420.53" width="1.44" height="2.67" fill="#84a4b7" stroke="none" stroke-width="1"/>
<line x1="199.43" y1="420.53" x2="200.87" y2="420.53" stroke="#61798a" stroke-width="0.3" stroke-opacity="0.6"/>
<rect x="202.3" y="420.93" width="1.44" height="2.27" fill="#84a4b7" stroke="none" stroke-width="1"/>
<line x1="202.3" y1="420.93" x2="203.74" y2="420.93" stroke="#61798a" stroke-width="0.3" stroke-opacity="0.6"/>
<rect x="205.17" y="420.98" width="1.44" height="2.22" fill="#84a4b7" stroke="none" stroke-width="1"/>
<line x1="205.17" y1="420.98" x2="206.61" y2="420.98" stroke="#61798a" stroke-width="0.3" stroke-opacity="0.6"/>
<rect x="208.04" y="420.71" width="1.44" height="2.49" fill="#84a4b7" stroke="none" stroke-width="1"/>
<line x1="208.04" y1="420.71" x2="209.48" y2="420.71" stroke="#61798a" stroke-width="0.3" stroke-opacity="0.6"/>
<rect x="210.91" y="421.08" width="1.44" height="2.12" fill="#84a4b7" stroke="none" stroke-width="1"/>
<line x1="210.91" y1="421.08" x2="212.35" y2="421.08" stroke="#61798a" stroke-width="0.3" stroke-opacity="0.6"/>
<rect x="213.78" y="421.13" width="1.44" height="2.07" fill="#84a4b7" stroke="none" stroke-width="1"/>
<line x1="213.78" y1="421.13" x2="215.22" y2="421.13" stroke="#61798a" stroke-width="0.3" stroke-opacity="0.6"/>
<rect x="216.65" y="420.88" width="1.44" height="2.32" fill="#84a4b7" stroke="none" stroke-width="1"/>
<line x1="216.65" y1="420.88" x2="218.09" y2="420.88" stroke="#61798a" stroke-width="0.3" stroke-opacity="0.6"/>
<rect x="219.53" y="421.23" width="1.44" height="1.97" fill="#84a4b7" stroke="none" stroke-width="1"/>
<line x1="219.53" y1="421.23" x2="220.96" y2="421.23" stroke="#61798a" stroke-width="0.3" stroke-opacity="0.6"/>
<rect x="222.4" y="421.27" width="1.44" height="1.93" fill="#84a4b7" stroke="none" stroke-width="1"/>
<line x1="222.4" y1="421.27" x2="223.83" y2="421.27" stroke="#61798a" stroke-width="0.3" stroke-opacity="0.6"/>
<rect x="225.27" y="421.04" width="1.44" height="2.16" fill="#84a4b7" stroke="none" stroke-width="1"/>
<line x1="225.27" y1="421.04" x2="226.7" y2="421.04" stroke="#61798a" stroke-width="0.3" stroke-opacity="0.6"/>
<rect x="228.14" y="421.36" width="1.44" height="1.84" fill="#84a4b7" stroke="none" stroke-width="1"/>
<line x1="228.14" y1="421.36" x2="229.57" y2="421.36" stroke="#61798a" stroke-width="0.3" stroke-opacity="0.6"/>
<rect x="231.01" y="421.41" width="1.44" height="1.79" fill="#84a4b7" stroke="none" stroke-width="1"/>
<line x1="231.01" y1="421.41" x2="232.44" y2="421.41" stroke="#61798a" stroke-width="0.3" stroke-opacity="0.6"/>
<rect x="233.88" y="421.18" width="1.44" height="2.02" fill="#84a4b7" stroke="none" stroke-width="1"/>
<line x1="233.88" y1="421.18" x2="235.31" y2="421.18" stroke="#61798a" stroke-width="0.3" stroke-opacity="0.6"/>
<rect x="236.75" y="421.49" width="1.44" height="1.71" fill="#84a4b7" stroke="none" stroke-width="1"/>
<line x1="236.75" y1="421.49" x2="238.18" y2="421.49" stroke="#61798a" stroke-width="0.3" stroke-opacity="0.6"/>
<rect x="239.62" y="421.53" width="1.44" height="1.67" fill="#84a4b7" stroke="none" stroke-width="1"/>
<line x1="239.62" y1="421.53" x2="241.05" y2="421.53" stroke="#61798a" stroke-width="0.3" stroke-opacity="0.6"/>
<rect x="242.49" y="421.32" width="1.44" height="1.88" fill="#84a4b7" stroke="none" stroke-width="1"/>
<line x1="242.49" y1="421.32" x2="243.92" y2="421.32" stroke="#61798a" stroke-width="0.3" stroke-opacity="0.6"/>
<rect x="245.36" y="421.6" width="1.44" height="1.6" fill="#84a4b7" stroke="none" stroke-width="1"/>
<line x1="245.36" y1="421.6" x2="246.79" y2="421.6" stroke="#61798a" stroke-width="0.3" stroke-opacity="0.6"/>
<rect x="248.23" y="421.64" width="1.44" height="1.56" fill="#84a4b7" stroke="none" stroke-width="1"/>
<line x1="248.23" y1="421.64" x2="249.67" y2="421.64" stroke="#61798a" stroke-width="0.3" stroke-opacity="0.6"/>
<rect x="251.1" y="421.45" width="1.44" height="1.75" fill="#84a4b7" stroke="none" stroke-width="1"/>
<line x1="251.1" y1="421.45" x2="252.54" y2="421.45" stroke="#61798a" stroke-width="0.3" stroke-opacity="0.6"/>
<rect x="253.97" y="421.71" width="1.44" height="1.49" fill="#84a4b7" stroke="none" stroke-width="1"/>
<line x1="253.97" y1="421.71" x2="255.41" y2="421.71" stroke="#61798a" stroke-width="0.3" stroke-opacity="0.6"/>
<rect x="256.84" y="421.75" width="1.44" height="1.45" fill="#84a4b7" stroke="none" stroke-width="1"/>
<line x1="256.84" y1="421.75" x2="258.28" y2="421.75" stroke="#61798a" stroke-width="0.3" stroke-opacity="0.6"/>
<rect x="259.71" y="421.57" width="1.44" height="1.63" fill="#84a4b7" stroke="none" stroke-width="1"/>
<line x1="259.71" y1="421.57" x2="261.15" y2="421.57" stroke="#61798a" stroke-width="0.3" stroke-opacity="0.6"/>
<rect x="262.58" y="421.81" width="1.44" height="1.39" fill="#84a4b7" stroke="none" stroke-width="1"/>
<line x1="262.58" y1="421.81" x2="264.02" y2="421.81" stroke="#61798a" stroke-width="0.3" stroke-opacity="0.6"/>
<rect x="265.45" y="421.85" width="1.44" height="1.35" fill="#84a4b7" stroke="none" stroke-width="1"/>
<line x1="265.45" y1="421.85" x2="266.89" y2="421.85" stroke="#61798a" stroke-width="0.3" stroke-opacity="0.6"/>
<rect x="268.32" y="421.68" width="1.44" height="1.52" fill="#84a4b7" stroke="none" stroke-width="1"/>
<line x1="268.32" y1="421.68" x2="269.76" y2="421.68" stroke="#61798a" stroke-width="0.3" stroke-opacity="0.6"/>
<rect x="271.19" y="421.91" width="1.44" height="1.29" fill="#84a4b7" stroke="none" stroke-width="1"/>
<line x1="271.19" y1="421.91" x2="272.63" y2="421.91" stroke="#61798a" stroke-width="0.3" stroke-opacity="0.6"/>
<rect x="274.06" y="421.94" width="1.44" height="1.26" fill="#84a4b7" stroke="none" stroke-width="1"/>
<line x1="274.06" y1="421.94" x2="275.5" y2="421.94" stroke="#61798a" stroke-width="0.3" stroke-opacity="0.6"/>
<rect x="276.94" y="421.78" width="1.44" height="1.42" fill="#84a4b7" stroke="none" stroke-width="1"/>
<line x1="276.94" y1="421.78" x2="278.37" y2="421.78" stroke="#61798a" stroke-width="0.3" stroke-opacity="0.6"/>
<rect x="279.81" y="422" width="1.44" height="1.2" fill="#84a4b7" stroke="none" stroke-width="1"/>
<line x1="279.81" y1="422" x2="281.24" y2="422" stroke="#61798a" stroke-width="0.3" stroke-opacity="0.6"/>
<rect x="282.68" y="422.03" width="1.44" height="1.17" fill="#84a4b7" stroke="none" stroke-width="1"/>
<line x1="282.68" y1="422.03" x2="284.11" y2="422.03" stroke="#61798a" stroke-width="0.3" stroke-opacity="0.6"/>
<rect x="285.55" y="421.88" width="1.44" height="1.32" fill="#84a4b7" stroke="none" stroke-width="1"/>
<line x1="285.55" y1="421.88" x2="286.98" y2="421.88" stroke="#61798a" stroke-width="0.3" stroke-opacity="0.6"/>
<rect x="288.42" y="422.08" width="1.44" height="1.12" fill="#84a4b7" stroke="none" stroke-width="1"/>
<line x1="288.42" y1="422.08" x2="289.85" y2="422.08" stroke="#61798a" stroke-width="0.3" stroke-opacity="0.6"/>
<rect x="291.29" y="422.11" width="1.44" height="1.09" fill="#84a4b7" stroke="none" stroke-width="1"/>
<line x1="291.29" y1="422.11" x2="292.72" y2="422.11" stroke="#61798a" stroke-width="0.3" stroke-opacity="0.6"/>
<rect x="294.16" y="421.97" width="1.44" height="1.23" fill="#84a4b7" stroke="none" stroke-width="1"/>
<line x1="294.16" y1="421.97" x2="295.59" y2="421.97" stroke="#61798a" stroke-width="0.3" stroke-opacity="0.6"/>
<rect x="297.03" y="422.16" width="1.44" height="1.04" fill="#84a4b7" stroke="none" stroke-width="1"/>
<line x1="297.03" y1="422.16" x2="298.46" y2="422.16" stroke="#61798a" stroke-width="0.3" stroke-opacity="0.6"/>
<rect x="299.9" y="422.18" width="1.44" height="1.02" fill="#84a4b7" stroke="none" stroke-width="1"/>
<line x1="299.9" y1="422.18" x2="301.33" y2="422.18" stroke="#61798a" stroke-width="0.3" stroke-opacity="0.6"/>
<rect x="302.77" y="422.05" width="1.44" height="1.15" fill="#84a4b7" stroke="none" stroke-width="1"/>
<line x1="302.77" y1="422.05" x2="304.2" y2="422.05" stroke="#61798a" stroke-width="0.3" stroke-opacity="0.6"/>
<rect x="305.64" y="422.23" width="1.44" height="0.97" fill="#84a4b7" stroke="none" stroke-width="1"/>
<line x1="305.64" y1="422.23" x2="307.08" y2="422.23" stroke="#61798a" stroke-width="0.3" stroke-opacity="0.6"/>
<rect x="308.51" y="422.25" width="1.44" height="0.95" fill="#84a4b7" stroke="none" stroke-width="1"/>
<line x1="308.51" y1="422.25" x2="309.95" y2="422.25" stroke="#61798a" stroke-width="0.3" stroke-opacity="0.6"/>
<rect x="311.38" y="422.13" width="1.44" height="1.07" fill="#84a4b7" stroke="none" stroke-width="1"/>
<line x1="311.38" y1="422.13" x2="312.82" y2="422.13" stroke="#61798a" stroke-width="0.3" stroke-opacity="0.6"/>
<rect x="314.25" y="422.29" width="1.44" height="0.91" fill="#84a4b7" stroke="none" stroke-width="1"/>
<line x1="314.25" y1="422.29" x2="315.69" y2="422.29" stroke="#61798a" stroke-width="0.3" stroke-opacity="0.6"/>
<rect x="317.12" y="422.31" width="1.44" height="0.89" fill="#84a4b7" stroke="none" stroke-width="1"/>
<line x1="317.12" y1="422.31" x2="318.56" y2="422.31" stroke="#61798a" stroke-width="0.3" stroke-opacity="0.6"/>
<rect x="319.99" y="422.2" width="1.44" height="1" fill="#84a4b7" stroke="none" stroke-width="1"/>
<line x1="319.99" y1="422.2" x2="321.43" y2="422.2" stroke="#61798a" stroke-width="0.3" stroke-opacity="0.6"/>
<rect x="322.86" y="422.35" width="1.44" height="0.85" fill="#84a4b7" stroke="none" stroke-width="1"/>
<line x1="322.86" y1="422.35" x2="324.3" y2="422.35" stroke="#61798a" stroke-width="0.3" stroke-opacity="0.6"/>
<rect x="325.73" y="422.37" width="1.44" height="0.83" fill="#84a4b7" stroke="none" stroke-width="1"/>
<line x1="325.73" y1="422.37" x2="327.17" y2="422.37" stroke="#61798a" stroke-width="0.3" stroke-opacity="0.6"/>
<rect x="57.2" y="265.23" width="1.72" height="157.97" fill="#bb7b68" stroke="none" stroke-width="1"/>
</g>
<text x="62.3" y="271.3" font-size="9.5" text-anchor="start" fill="#e8141e">674,125</text>
<rect x="40.65" y="257.4" width="286.65" height="165.8" fill="none" stroke="#3a3a3a" stroke-width="0.9"/>
<line x1="38.05" y1="423.2" x2="40.65" y2="423.2" stroke="#3a3a3a" stroke-width="0.8"/>
<text x="35.85" y="426" font-size="8.2" text-anchor="end" fill="#000">0k</text>
<line x1="38.05" y1="399.9" x2="40.65" y2="399.9" stroke="#3a3a3a" stroke-width="0.8"/>
<text x="35.85" y="402.7" font-size="8.2" text-anchor="end" fill="#000">100k</text>
<line x1="38.05" y1="376.6" x2="40.65" y2="376.6" stroke="#3a3a3a" stroke-width="0.8"/>
<text x="35.85" y="379.4" font-size="8.2" text-anchor="end" fill="#000">200k</text>
<line x1="38.05" y1="353.3" x2="40.65" y2="353.3" stroke="#3a3a3a" stroke-width="0.8"/>
<text x="35.85" y="356.1" font-size="8.2" text-anchor="end" fill="#000">300k</text>
<line x1="38.05" y1="330" x2="40.65" y2="330" stroke="#3a3a3a" stroke-width="0.8"/>
<text x="35.85" y="332.8" font-size="8.2" text-anchor="end" fill="#000">400k</text>
<line x1="38.05" y1="306.7" x2="40.65" y2="306.7" stroke="#3a3a3a" stroke-width="0.8"/>
<text x="35.85" y="309.5" font-size="8.2" text-anchor="end" fill="#000">500k</text>
<line x1="38.05" y1="283.4" x2="40.65" y2="283.4" stroke="#3a3a3a" stroke-width="0.8"/>
<text x="35.85" y="286.2" font-size="8.2" text-anchor="end" fill="#000">600k</text>
<line x1="38.05" y1="260.1" x2="40.65" y2="260.1" stroke="#3a3a3a" stroke-width="0.8"/>
<text x="35.85" y="262.9" font-size="8.2" text-anchor="end" fill="#000">700k</text>
<line x1="40.65" y1="423.2" x2="40.65" y2="425.8" stroke="#3a3a3a" stroke-width="0.8"/>
<text x="40.75" y="433.7" font-size="8.5" text-anchor="middle" fill="#000">0</text>
<line x1="69.36" y1="423.2" x2="69.36" y2="425.8" stroke="#3a3a3a" stroke-width="0.8"/>
<text x="69.45" y="433.7" font-size="8.5" text-anchor="middle" fill="#000">20</text>
<line x1="98.06" y1="423.2" x2="98.06" y2="425.8" stroke="#3a3a3a" stroke-width="0.8"/>
<text x="98.16" y="433.7" font-size="8.5" text-anchor="middle" fill="#000">40</text>
<line x1="126.77" y1="423.2" x2="126.77" y2="425.8" stroke="#3a3a3a" stroke-width="0.8"/>
<text x="126.87" y="433.7" font-size="8.5" text-anchor="middle" fill="#000">60</text>
<line x1="155.47" y1="423.2" x2="155.47" y2="425.8" stroke="#3a3a3a" stroke-width="0.8"/>
<text x="155.57" y="433.7" font-size="8.5" text-anchor="middle" fill="#000">80</text>
<line x1="184.18" y1="423.2" x2="184.18" y2="425.8" stroke="#3a3a3a" stroke-width="0.8"/>
<text x="184.28" y="433.7" font-size="8.5" text-anchor="middle" fill="#000">100</text>
<line x1="212.88" y1="423.2" x2="212.88" y2="425.8" stroke="#3a3a3a" stroke-width="0.8"/>
<text x="212.98" y="433.7" font-size="8.5" text-anchor="middle" fill="#000">120</text>
<line x1="241.59" y1="423.2" x2="241.59" y2="425.8" stroke="#3a3a3a" stroke-width="0.8"/>
<text x="241.69" y="433.7" font-size="8.5" text-anchor="middle" fill="#000">140</text>
<line x1="270.29" y1="423.2" x2="270.29" y2="425.8" stroke="#3a3a3a" stroke-width="0.8"/>
<text x="270.39" y="433.7" font-size="8.5" text-anchor="middle" fill="#000">160</text>
<line x1="299" y1="423.2" x2="299" y2="425.8" stroke="#3a3a3a" stroke-width="0.8"/>
<text x="299.1" y="433.7" font-size="8.5" text-anchor="middle" fill="#000">180</text>
<line x1="327.7" y1="423.2" x2="327.7" y2="425.8" stroke="#3a3a3a" stroke-width="0.8"/>
<text x="327.8" y="433.7" font-size="8.5" text-anchor="middle" fill="#000">200</text>
<text x="184" y="445.5" font-size="9.5" text-anchor="middle" fill="#000">Length of STRs (bp)</text>
<text x="13.2" y="340.3" font-size="9.5" text-anchor="middle" fill="#000" transform="rotate(-90 13.2 340.3)">Count of STRs</text>
<circle cx="258.8" cy="336" r="41.4" fill="#e9879f"/>
<path d="M258.8 336 L258.8 294.6 A41.4 41.4 0 0 0 217.5 338.86 Z" fill="#8bbde4"/>
<text x="238.4" y="327.5" font-size="12.7" text-anchor="middle" fill="#000">26.1</text>
<text x="271.4" y="355.6" font-size="12.7" text-anchor="middle" fill="#000">73.9</text>
<rect x="274" y="279.3" width="16.6" height="5.6" fill="#8bbde4" stroke="none" stroke-width="1"/>
<rect x="274" y="291.4" width="16.6" height="5.9" fill="#e9879f" stroke="none" stroke-width="1"/>
<text x="294" y="285.9" font-size="9.9" text-anchor="start" fill="#000">Odd</text>
<text x="292.8" y="297.9" font-size="9.9" text-anchor="start" fill="#000">Even</text>
</g>
<g id="panelD">
<clipPath id="clipD"><rect x="405.2" y="257.7" width="273.3" height="162.2"/></clipPath>
<g clip-path="url(#clipD)">
<rect x="416.96" y="278.02" width="1.81" height="141.88" fill="#abd0e6" stroke="none" stroke-width="1"/>
<rect x="418.77" y="268.2" width="1.81" height="151.7" fill="#abd0e6" stroke="none" stroke-width="1"/>
<rect x="420.58" y="269.24" width="1.81" height="150.66" fill="#abd0e6" stroke="none" stroke-width="1"/>
<rect x="424.2" y="282.26" width="1.81" height="137.64" fill="#abd0e6" stroke="none" stroke-width="1"/>
<rect x="426.01" y="293.57" width="1.81" height="126.33" fill="#abd0e6" stroke="none" stroke-width="1"/>
<rect x="427.82" y="318.12" width="1.81" height="101.78" fill="#abd0e6" stroke="none" stroke-width="1"/>
<rect x="429.63" y="324.82" width="1.81" height="95.08" fill="#abd0e6" stroke="none" stroke-width="1"/>
<rect x="431.44" y="338.36" width="1.81" height="81.54" fill="#abd0e6" stroke="none" stroke-width="1"/>
<rect x="433.24" y="340.22" width="1.81" height="79.68" fill="#abd0e6" stroke="none" stroke-width="1"/>
<rect x="435.05" y="345.28" width="1.81" height="74.62" fill="#abd0e6" stroke="none" stroke-width="1"/>
<rect x="436.86" y="345.28" width="1.81" height="74.62" fill="#abd0e6" stroke="none" stroke-width="1"/>
<rect x="438.67" y="351.75" width="1.81" height="68.15" fill="#abd0e6" stroke="none" stroke-width="1"/>
<rect x="440.48" y="354.13" width="1.81" height="65.77" fill="#abd0e6" stroke="none" stroke-width="1"/>
<rect x="442.29" y="360.38" width="1.81" height="59.52" fill="#abd0e6" stroke="none" stroke-width="1"/>
<rect x="444.1" y="361.35" width="1.81" height="58.55" fill="#abd0e6" stroke="none" stroke-width="1"/>
<rect x="445.91" y="366.63" width="1.81" height="53.27" fill="#abd0e6" stroke="none" stroke-width="1"/>
<rect x="447.72" y="367.22" width="1.81" height="52.68" fill="#abd0e6" stroke="none" stroke-width="1"/>
<rect x="449.53" y="372.14" width="1.81" height="47.76" fill="#abd0e6" stroke="none" stroke-width="1"/>
<rect x="451.34" y="373.4" width="1.81" height="46.5" fill="#abd0e6" stroke="none" stroke-width="1"/>
<rect x="453.15" y="377.12" width="1.81" height="42.78" fill="#abd0e6" stroke="none" stroke-width="1"/>
<rect x="454.96" y="378.24" width="1.81" height="41.66" fill="#abd0e6" stroke="none" stroke-width="1"/>
<rect x="456.77" y="380.1" width="1.81" height="39.8" fill="#abd0e6" stroke="none" stroke-width="1"/>
<rect x="458.58" y="381.21" width="1.81" height="38.69" fill="#abd0e6" stroke="none" stroke-width="1"/>
<rect x="460.38" y="383.44" width="1.81" height="36.46" fill="#abd0e6" stroke="none" stroke-width="1"/>
<rect x="462.19" y="384.96" width="1.81" height="34.94" fill="#abd0e6" stroke="none" stroke-width="1"/>
<rect x="464" y="386.42" width="1.81" height="33.48" fill="#abd0e6" stroke="none" stroke-width="1"/>
<rect x="465.81" y="387.66" width="1.81" height="32.24" fill="#abd0e6" stroke="none" stroke-width="1"/>
<rect x="467.62" y="388.85" width="1.81" height="31.05" fill="#abd0e6" stroke="none" stroke-width="1"/>
<rect x="469.43" y="390" width="1.81" height="29.9" fill="#abd0e6" stroke="none" stroke-width="1"/>
<rect x="471.24" y="391.11" width="1.81" height="28.79" fill="#abd0e6" stroke="none" stroke-width="1"/>
<rect x="473.05" y="392.23" width="1.81" height="27.67" fill="#abd0e6" stroke="none" stroke-width="1"/>
<rect x="474.86" y="393.31" width="1.81" height="26.59" fill="#abd0e6" stroke="none" stroke-width="1"/>
<rect x="476.67" y="394.35" width="1.81" height="25.55" fill="#abd0e6" stroke="none" stroke-width="1"/>
<rect x="478.48" y="395.35" width="1.81" height="24.55" fill="#abd0e6" stroke="none" stroke-width="1"/>
<rect x="480.29" y="396.19" width="1.81" height="23.71" fill="#abd0e6" stroke="none" stroke-width="1"/>
<rect x="482.1" y="397" width="1.81" height="22.9" fill="#abd0e6" stroke="none" stroke-width="1"/>
<rect x="483.91" y="397.79" width="1.81" height="22.11" fill="#abd0e6" stroke="none" stroke-width="1"/>
<rect x="485.72" y="398.55" width="1.81" height="21.35" fill="#abd0e6" stroke="none" stroke-width="1"/>
<rect x="487.52" y="399.38" width="1.81" height="20.52" fill="#abd0e6" stroke="none" stroke-width="1"/>
<rect x="489.33" y="400.17" width="1.81" height="19.73" fill="#abd0e6" stroke="none" stroke-width="1"/>
<rect x="491.14" y="400.94" width="1.81" height="18.96" fill="#abd0e6" stroke="none" stroke-width="1"/>
<rect x="492.95" y="401.67" width="1.81" height="18.23" fill="#abd0e6" stroke="none" stroke-width="1"/>
<rect x="494.76" y="402.31" width="1.81" height="17.59" fill="#abd0e6" stroke="none" stroke-width="1"/>
<rect x="496.57" y="402.93" width="1.81" height="16.97" fill="#abd0e6" stroke="none" stroke-width="1"/>
<rect x="498.38" y="403.52" width="1.81" height="16.38" fill="#abd0e6" stroke="none" stroke-width="1"/>
<rect x="500.19" y="404.09" width="1.81" height="15.81" fill="#abd0e6" stroke="none" stroke-width="1"/>
<rect x="502" y="404.65" width="1.81" height="15.25" fill="#abd0e6" stroke="none" stroke-width="1"/>
<rect x="503.81" y="405.1" width="1.81" height="14.8" fill="#abd0e6" stroke="none" stroke-width="1"/>
<rect x="505.62" y="405.54" width="1.81" height="14.36" fill="#abd0e6" stroke="none" stroke-width="1"/>
<rect x="507.43" y="405.97" width="1.81" height="13.93" fill="#abd0e6" stroke="none" stroke-width="1"/>
<rect x="509.24" y="406.38" width="1.81" height="13.52" fill="#abd0e6" stroke="none" stroke-width="1"/>
<rect x="511.05" y="406.79" width="1.81" height="13.11" fill="#abd0e6" stroke="none" stroke-width="1"/>
<rect x="512.86" y="407.18" width="1.81" height="12.72" fill="#abd0e6" stroke="none" stroke-width="1"/>
<rect x="514.66" y="407.48" width="1.81" height="12.42" fill="#abd0e6" stroke="none" stroke-width="1"/>
<rect x="516.47" y="407.77" width="1.81" height="12.13" fill="#abd0e6" stroke="none" stroke-width="1"/>
<rect x="518.28" y="408.06" width="1.81" height="11.84" fill="#abd0e6" stroke="none" stroke-width="1"/>
<rect x="520.09" y="408.33" width="1.81" height="11.57" fill="#abd0e6" stroke="none" stroke-width="1"/>
<rect x="521.9" y="408.61" width="1.81" height="11.29" fill="#abd0e6" stroke="none" stroke-width="1"/>
<rect x="523.71" y="408.87" width="1.81" height="11.03" fill="#abd0e6" stroke="none" stroke-width="1"/>
<rect x="525.52" y="409.13" width="1.81" height="10.77" fill="#abd0e6" stroke="none" stroke-width="1"/>
<rect x="527.33" y="409.39" width="1.81" height="10.51" fill="#abd0e6" stroke="none" stroke-width="1"/>
<rect x="529.14" y="409.63" width="1.81" height="10.27" fill="#abd0e6" stroke="none" stroke-width="1"/>
<rect x="530.95" y="409.77" width="1.81" height="10.13" fill="#abd0e6" stroke="none" stroke-width="1"/>
<rect x="532.76" y="409.91" width="1.81" height="9.99" fill="#abd0e6" stroke="none" stroke-width="1"/>
<rect x="534.57" y="410.04" width="1.81" height="9.86" fill="#abd0e6" stroke="none" stroke-width="1"/>
<rect x="536.38" y="410.17" width="1.81" height="9.73" fill="#abd0e6" stroke="none" stroke-width="1"/>
<rect x="538.19" y="410.3" width="1.81" height="9.6" fill="#abd0e6" stroke="none" stroke-width="1"/>
<rect x="540" y="410.43" width="1.81" height="9.47" fill="#abd0e6" stroke="none" stroke-width="1"/>
<rect x="541.8" y="410.56" width="1.81" height="9.34" fill="#abd0e6" stroke="none" stroke-width="1"/>
<rect x="543.61" y="410.68" width="1.81" height="9.22" fill="#abd0e6" stroke="none" stroke-width="1"/>
<rect x="545.42" y="410.8" width="1.81" height="9.1" fill="#abd0e6" stroke="none" stroke-width="1"/>
<rect x="547.23" y="410.93" width="1.81" height="8.97" fill="#abd0e6" stroke="none" stroke-width="1"/>
<rect x="549.04" y="411.05" width="1.81" height="8.85" fill="#abd0e6" stroke="none" stroke-width="1"/>
<rect x="550.85" y="411.2" width="1.81" height="8.7" fill="#abd0e6" stroke="none" stroke-width="1"/>
<rect x="552.66" y="411.35" width="1.81" height="8.55" fill="#abd0e6" stroke="none" stroke-width="1"/>
<rect x="554.47" y="411.5" width="1.81" height="8.4" fill="#abd0e6" stroke="none" stroke-width="1"/>
<rect x="556.28" y="411.65" width="1.81" height="8.25" fill="#abd0e6" stroke="none" stroke-width="1"/>
<rect x="558.09" y="411.8" width="1.81" height="8.1" fill="#abd0e6" stroke="none" stroke-width="1"/>
<rect x="559.9" y="411.94" width="1.81" height="7.96" fill="#abd0e6" stroke="none" stroke-width="1"/>
<rect x="561.71" y="412.03" width="1.81" height="7.87" fill="#abd0e6" stroke="none" stroke-width="1"/>
<rect x="563.52" y="412.13" width="1.81" height="7.77" fill="#abd0e6" stroke="none" stroke-width="1"/>
<rect x="565.33" y="412.22" width="1.81" height="7.68" fill="#abd0e6" stroke="none" stroke-width="1"/>
<rect x="567.14" y="412.31" width="1.81" height="7.59" fill="#abd0e6" stroke="none" stroke-width="1"/>
<rect x="568.94" y="412.42" width="1.81" height="7.48" fill="#abd0e6" stroke="none" stroke-width="1"/>
<rect x="570.75" y="412.53" width="1.81" height="7.37" fill="#abd0e6" stroke="none" stroke-width="1"/>
<rect x="572.56" y="412.64" width="1.81" height="7.26" fill="#abd0e6" stroke="none" stroke-width="1"/>
<rect x="574.37" y="412.75" width="1.81" height="7.15" fill="#abd0e6" stroke="none" stroke-width="1"/>
<rect x="576.18" y="412.85" width="1.81" height="7.05" fill="#abd0e6" stroke="none" stroke-width="1"/>
<rect x="577.99" y="412.95" width="1.81" height="6.95" fill="#abd0e6" stroke="none" stroke-width="1"/>
<rect x="579.8" y="413.06" width="1.81" height="6.84" fill="#abd0e6" stroke="none" stroke-width="1"/>
<rect x="581.61" y="413.16" width="1.81" height="6.74" fill="#abd0e6" stroke="none" stroke-width="1"/>
<rect x="583.42" y="413.26" width="1.81" height="6.64" fill="#abd0e6" stroke="none" stroke-width="1"/>
<rect x="585.23" y="413.35" width="1.81" height="6.55" fill="#abd0e6" stroke="none" stroke-width="1"/>
<rect x="587.04" y="413.44" width="1.81" height="6.46" fill="#abd0e6" stroke="none" stroke-width="1"/>
<rect x="588.85" y="413.53" width="1.81" height="6.37" fill="#abd0e6" stroke="none" stroke-width="1"/>
<rect x="590.66" y="413.61" width="1.81" height="6.29" fill="#abd0e6" stroke="none" stroke-width="1"/>
<rect x="592.47" y="413.69" width="1.81" height="6.21" fill="#abd0e6" stroke="none" stroke-width="1"/>
<rect x="594.28" y="413.78" width="1.81" height="6.12" fill="#abd0e6" stroke="none" stroke-width="1"/>
<rect x="596.08" y="413.86" width="1.81" height="6.04" fill="#abd0e6" stroke="none" stroke-width="1"/>
<rect x="597.89" y="413.94" width="1.81" height="5.96" fill="#abd0e6" stroke="none" stroke-width="1"/>
<rect x="599.7" y="414.02" width="1.81" height="5.88" fill="#abd0e6" stroke="none" stroke-width="1"/>
<rect x="601.51" y="414.09" width="1.81" height="5.81" fill="#abd0e6" stroke="none" stroke-width="1"/>
<rect x="603.32" y="414.17" width="1.81" height="5.73" fill="#abd0e6" stroke="none" stroke-width="1"/>
<rect x="605.13" y="414.23" width="1.81" height="5.67" fill="#abd0e6" stroke="none" stroke-width="1"/>
<rect x="606.94" y="414.3" width="1.81" height="5.6" fill="#abd0e6" stroke="none" stroke-width="1"/>
<rect x="608.75" y="414.36" width="1.81" height="5.54" fill="#abd0e6" stroke="none" stroke-width="1"/>
<rect x="610.56" y="414.42" width="1.81" height="5.48" fill="#abd0e6" stroke="none" stroke-width="1"/>
<rect x="612.37" y="414.48" width="1.81" height="5.42" fill="#abd0e6" stroke="none" stroke-width="1"/>
<rect x="614.18" y="414.54" width="1.81" height="5.36" fill="#abd0e6" stroke="none" stroke-width="1"/>
<rect x="615.99" y="414.59" width="1.81" height="5.31" fill="#abd0e6" stroke="none" stroke-width="1"/>
<rect x="617.8" y="414.65" width="1.81" height="5.25" fill="#abd0e6" stroke="none" stroke-width="1"/>
<rect x="619.61" y="414.71" width="1.81" height="5.19" fill="#abd0e6" stroke="none" stroke-width="1"/>
<rect x="621.42" y="414.77" width="1.81" height="5.13" fill="#abd0e6" stroke="none" stroke-width="1"/>
<rect x="623.22" y="414.83" width="1.81" height="5.07" fill="#abd0e6" stroke="none" stroke-width="1"/>
<rect x="625.03" y="414.88" width="1.81" height="5.02" fill="#abd0e6" stroke="none" stroke-width="1"/>
<rect x="626.84" y="414.94" width="1.81" height="4.96" fill="#abd0e6" stroke="none" stroke-width="1"/>
<rect x="628.65" y="415" width="1.81" height="4.9" fill="#abd0e6" stroke="none" stroke-width="1"/>
<rect x="630.46" y="415.06" width="1.81" height="4.84" fill="#abd0e6" stroke="none" stroke-width="1"/>
<rect x="632.27" y="415.11" width="1.81" height="4.79" fill="#abd0e6" stroke="none" stroke-width="1"/>
<rect x="634.08" y="415.17" width="1.81" height="4.73" fill="#abd0e6" stroke="none" stroke-width="1"/>
<rect x="635.89" y="415.22" width="1.81" height="4.68" fill="#abd0e6" stroke="none" stroke-width="1"/>
<rect x="637.7" y="415.27" width="1.81" height="4.63" fill="#abd0e6" stroke="none" stroke-width="1"/>
<rect x="639.51" y="415.33" width="1.81" height="4.57" fill="#abd0e6" stroke="none" stroke-width="1"/>
<rect x="641.32" y="415.38" width="1.81" height="4.52" fill="#abd0e6" stroke="none" stroke-width="1"/>
<rect x="643.13" y="415.43" width="1.81" height="4.47" fill="#abd0e6" stroke="none" stroke-width="1"/>
<rect x="644.94" y="415.48" width="1.81" height="4.42" fill="#abd0e6" stroke="none" stroke-width="1"/>
<rect x="646.75" y="415.53" width="1.81" height="4.37" fill="#abd0e6" stroke="none" stroke-width="1"/>
<rect x="648.56" y="415.58" width="1.81" height="4.32" fill="#abd0e6" stroke="none" stroke-width="1"/>
<rect x="650.36" y="415.63" width="1.81" height="4.27" fill="#abd0e6" stroke="none" stroke-width="1"/>
<rect x="652.17" y="415.68" width="1.81" height="4.22" fill="#abd0e6" stroke="none" stroke-width="1"/>
<rect x="653.98" y="415.73" width="1.81" height="4.17" fill="#abd0e6" stroke="none" stroke-width="1"/>
<rect x="655.79" y="415.77" width="1.81" height="4.13" fill="#abd0e6" stroke="none" stroke-width="1"/>
<rect x="657.6" y="415.82" width="1.81" height="4.08" fill="#abd0e6" stroke="none" stroke-width="1"/>
<rect x="659.41" y="415.87" width="1.81" height="4.03" fill="#abd0e6" stroke="none" stroke-width="1"/>
<rect x="661.22" y="415.91" width="1.81" height="3.99" fill="#abd0e6" stroke="none" stroke-width="1"/>
<rect x="663.03" y="415.96" width="1.81" height="3.94" fill="#abd0e6" stroke="none" stroke-width="1"/>
<rect x="664.84" y="416" width="1.81" height="3.9" fill="#abd0e6" stroke="none" stroke-width="1"/>
<rect x="666.65" y="416.04" width="1.81" height="3.86" fill="#abd0e6" stroke="none" stroke-width="1"/>
<rect x="668.46" y="416.09" width="1.81" height="3.81" fill="#abd0e6" stroke="none" stroke-width="1"/>
<rect x="670.27" y="416.13" width="1.81" height="3.77" fill="#abd0e6" stroke="none" stroke-width="1"/>
<rect x="672.08" y="416.17" width="1.81" height="3.73" fill="#abd0e6" stroke="none" stroke-width="1"/>
<rect x="673.89" y="416.21" width="1.81" height="3.69" fill="#abd0e6" stroke="none" stroke-width="1"/>
<rect x="675.7" y="416.25" width="1.81" height="3.65" fill="#abd0e6" stroke="none" stroke-width="1"/>
<rect x="677.5" y="416.29" width="1.81" height="3.61" fill="#abd0e6" stroke="none" stroke-width="1"/>
<line x1="416.96" y1="278.02" x2="416.96" y2="419.9" stroke="#6c8393" stroke-width="0.75"/>
<line x1="416.96" y1="278.02" x2="418.77" y2="278.02" stroke="#6c8393" stroke-width="0.45"/>
<line x1="418.77" y1="268.2" x2="418.77" y2="419.9" stroke="#6c8393" stroke-width="0.75"/>
<line x1="418.77" y1="268.2" x2="420.58" y2="268.2" stroke="#6c8393" stroke-width="0.45"/>
<line x1="420.58" y1="268.2" x2="420.58" y2="419.9" stroke="#6c8393" stroke-width="0.75"/>
<line x1="420.58" y1="269.24" x2="422.39" y2="269.24" stroke="#6c8393" stroke-width="0.45"/>
<line x1="422.39" y1="265.6" x2="422.39" y2="419.9" stroke="#6c8393" stroke-width="0.75"/>
<line x1="422.39" y1="265.6" x2="424.2" y2="265.6" stroke="#6c8393" stroke-width="0.45"/>
<line x1="424.2" y1="265.6" x2="424.2" y2="419.9" stroke="#6c8393" stroke-width="0.75"/>
<line x1="424.2" y1="282.26" x2="426.01" y2="282.26" stroke="#6c8393" stroke-width="0.45"/>
<line x1="426.01" y1="282.26" x2="426.01" y2="419.9" stroke="#6c8393" stroke-width="0.75"/>
<line x1="426.01" y1="293.57" x2="427.82" y2="293.57" stroke="#6c8393" stroke-width="0.45"/>
<line x1="427.82" y1="293.57" x2="427.82" y2="419.9" stroke="#6c8393" stroke-width="0.75"/>
<line x1="427.82" y1="318.12" x2="429.63" y2="318.12" stroke="#6c8393" stroke-width="0.45"/>
<line x1="429.63" y1="318.12" x2="429.63" y2="419.9" stroke="#6c8393" stroke-width="0.75"/>
<line x1="429.63" y1="324.82" x2="431.44" y2="324.82" stroke="#6c8393" stroke-width="0.45"/>
<line x1="431.44" y1="324.82" x2="431.44" y2="419.9" stroke="#6c8393" stroke-width="0.75"/>
<line x1="431.44" y1="338.36" x2="433.24" y2="338.36" stroke="#6c8393" stroke-width="0.45"/>
<line x1="433.24" y1="338.36" x2="433.24" y2="419.9" stroke="#6c8393" stroke-width="0.75"/>
<line x1="433.24" y1="340.22" x2="435.05" y2="340.22" stroke="#6c8393" stroke-width="0.45"/>
<line x1="435.05" y1="340.22" x2="435.05" y2="419.9" stroke="#6c8393" stroke-width="0.75"/>
<line x1="435.05" y1="345.28" x2="436.86" y2="345.28" stroke="#6c8393" stroke-width="0.45"/>
<line x1="436.86" y1="345.28" x2="436.86" y2="419.9" stroke="#6c8393" stroke-width="0.75"/>
<line x1="436.86" y1="345.28" x2="438.67" y2="345.28" stroke="#6c8393" stroke-width="0.45"/>
<line x1="438.67" y1="345.28" x2="438.67" y2="419.9" stroke="#6c8393" stroke-width="0.75"/>
<line x1="438.67" y1="351.75" x2="440.48" y2="351.75" stroke="#6c8393" stroke-width="0.45"/>
<line x1="440.48" y1="351.75" x2="440.48" y2="419.9" stroke="#6c8393" stroke-width="0.75"/>
<line x1="440.48" y1="354.13" x2="442.29" y2="354.13" stroke="#6c8393" stroke-width="0.45"/>
<line x1="442.29" y1="354.13" x2="442.29" y2="419.9" stroke="#6c8393" stroke-width="0.75"/>
<line x1="442.29" y1="360.38" x2="444.1" y2="360.38" stroke="#6c8393" stroke-width="0.45"/>
<line x1="444.1" y1="360.38" x2="444.1" y2="419.9" stroke="#6c8393" stroke-width="0.75"/>
<line x1="444.1" y1="361.35" x2="445.91" y2="361.35" stroke="#6c8393" stroke-width="0.45"/>
<line x1="445.91" y1="361.35" x2="445.91" y2="419.9" stroke="#6c8393" stroke-width="0.75"/>
<line x1="445.91" y1="366.63" x2="447.72" y2="366.63" stroke="#6c8393" stroke-width="0.45"/>
<line x1="447.72" y1="366.63" x2="447.72" y2="419.9" stroke="#6c8393" stroke-width="0.75"/>
<line x1="447.72" y1="367.22" x2="449.53" y2="367.22" stroke="#6c8393" stroke-width="0.45"/>
<line x1="449.53" y1="367.22" x2="449.53" y2="419.9" stroke="#6c8393" stroke-width="0.75"/>
<line x1="449.53" y1="372.14" x2="451.34" y2="372.14" stroke="#6c8393" stroke-width="0.45"/>
<line x1="451.34" y1="372.14" x2="451.34" y2="419.9" stroke="#6c8393" stroke-width="0.75"/>
<line x1="451.34" y1="373.4" x2="453.15" y2="373.4" stroke="#6c8393" stroke-width="0.45"/>
<line x1="453.15" y1="373.4" x2="453.15" y2="419.9" stroke="#6c8393" stroke-width="0.75"/>
<line x1="453.15" y1="377.12" x2="454.96" y2="377.12" stroke="#6c8393" stroke-width="0.45"/>
<line x1="454.96" y1="377.12" x2="454.96" y2="419.9" stroke="#6c8393" stroke-width="0.75"/>
<line x1="454.96" y1="378.24" x2="456.77" y2="378.24" stroke="#6c8393" stroke-width="0.45"/>
<line x1="456.77" y1="378.24" x2="456.77" y2="419.9" stroke="#6c8393" stroke-width="0.75"/>
<line x1="456.77" y1="380.1" x2="458.58" y2="380.1" stroke="#6c8393" stroke-width="0.45"/>
<line x1="458.58" y1="380.1" x2="458.58" y2="419.9" stroke="#6c8393" stroke-width="0.75"/>
<line x1="458.58" y1="381.21" x2="460.38" y2="381.21" stroke="#6c8393" stroke-width="0.45"/>
<line x1="460.38" y1="381.21" x2="460.38" y2="419.9" stroke="#6c8393" stroke-width="0.75"/>
<line x1="460.38" y1="383.44" x2="462.19" y2="383.44" stroke="#6c8393" stroke-width="0.45"/>
<line x1="462.19" y1="383.44" x2="462.19" y2="419.9" stroke="#6c8393" stroke-width="0.75"/>
<line x1="462.19" y1="384.96" x2="464" y2="384.96" stroke="#6c8393" stroke-width="0.45"/>
<line x1="464" y1="384.96" x2="464" y2="419.9" stroke="#6c8393" stroke-width="0.75"/>
<line x1="464" y1="386.42" x2="465.81" y2="386.42" stroke="#6c8393" stroke-width="0.45"/>
<line x1="465.81" y1="386.42" x2="465.81" y2="419.9" stroke="#6c8393" stroke-width="0.75"/>
<line x1="465.81" y1="387.66" x2="467.62" y2="387.66" stroke="#6c8393" stroke-width="0.45"/>
<line x1="467.62" y1="387.66" x2="467.62" y2="419.9" stroke="#6c8393" stroke-width="0.75"/>
<line x1="467.62" y1="388.85" x2="469.43" y2="388.85" stroke="#6c8393" stroke-width="0.45"/>
<line x1="469.43" y1="388.85" x2="469.43" y2="419.9" stroke="#6c8393" stroke-width="0.75"/>
<line x1="469.43" y1="390" x2="471.24" y2="390" stroke="#6c8393" stroke-width="0.45"/>
<line x1="471.24" y1="390" x2="471.24" y2="419.9" stroke="#6c8393" stroke-width="0.75"/>
<line x1="471.24" y1="391.11" x2="473.05" y2="391.11" stroke="#6c8393" stroke-width="0.45"/>
<line x1="473.05" y1="391.11" x2="473.05" y2="419.9" stroke="#6c8393" stroke-width="0.75"/>
<line x1="473.05" y1="392.23" x2="474.86" y2="392.23" stroke="#6c8393" stroke-width="0.45"/>
<line x1="474.86" y1="392.23" x2="474.86" y2="419.9" stroke="#6c8393" stroke-width="0.75"/>
<line x1="474.86" y1="393.31" x2="476.67" y2="393.31" stroke="#6c8393" stroke-width="0.45"/>
<line x1="476.67" y1="393.31" x2="476.67" y2="419.9" stroke="#6c8393" stroke-width="0.75"/>
<line x1="476.67" y1="394.35" x2="478.48" y2="394.35" stroke="#6c8393" stroke-width="0.45"/>
<line x1="478.48" y1="394.35" x2="478.48" y2="419.9" stroke="#6c8393" stroke-width="0.75"/>
<line x1="478.48" y1="395.35" x2="480.29" y2="395.35" stroke="#6c8393" stroke-width="0.45"/>
<line x1="480.29" y1="395.35" x2="480.29" y2="419.9" stroke="#6c8393" stroke-width="0.75"/>
<line x1="480.29" y1="396.19" x2="482.1" y2="396.19" stroke="#6c8393" stroke-width="0.45"/>
<line x1="482.1" y1="396.19" x2="482.1" y2="419.9" stroke="#6c8393" stroke-width="0.75"/>
<line x1="482.1" y1="397" x2="483.91" y2="397" stroke="#6c8393" stroke-width="0.45"/>
<line x1="483.91" y1="397" x2="483.91" y2="419.9" stroke="#6c8393" stroke-width="0.75"/>
<line x1="483.91" y1="397.79" x2="485.72" y2="397.79" stroke="#6c8393" stroke-width="0.45"/>
<line x1="485.72" y1="397.79" x2="485.72" y2="419.9" stroke="#6c8393" stroke-width="0.75"/>
<line x1="485.72" y1="398.55" x2="487.52" y2="398.55" stroke="#6c8393" stroke-width="0.45"/>
<line x1="487.52" y1="398.55" x2="487.52" y2="419.9" stroke="#6c8393" stroke-width="0.75"/>
<line x1="487.52" y1="399.38" x2="489.33" y2="399.38" stroke="#6c8393" stroke-width="0.45"/>
<line x1="489.33" y1="399.38" x2="489.33" y2="419.9" stroke="#6c8393" stroke-width="0.75"/>
<line x1="489.33" y1="400.17" x2="491.14" y2="400.17" stroke="#6c8393" stroke-width="0.45"/>
<line x1="491.14" y1="400.17" x2="491.14" y2="419.9" stroke="#6c8393" stroke-width="0.75"/>
<line x1="491.14" y1="400.94" x2="492.95" y2="400.94" stroke="#6c8393" stroke-width="0.45"/>
<line x1="492.95" y1="400.94" x2="492.95" y2="419.9" stroke="#6c8393" stroke-width="0.75"/>
<line x1="492.95" y1="401.67" x2="494.76" y2="401.67" stroke="#6c8393" stroke-width="0.45"/>
<line x1="494.76" y1="401.67" x2="494.76" y2="419.9" stroke="#6c8393" stroke-width="0.75"/>
<line x1="494.76" y1="402.31" x2="496.57" y2="402.31" stroke="#6c8393" stroke-width="0.45"/>
<line x1="496.57" y1="402.31" x2="496.57" y2="419.9" stroke="#6c8393" stroke-width="0.75"/>
<line x1="496.57" y1="402.93" x2="498.38" y2="402.93" stroke="#6c8393" stroke-width="0.45"/>
<line x1="498.38" y1="402.93" x2="498.38" y2="419.9" stroke="#6c8393" stroke-width="0.75"/>
<line x1="498.38" y1="403.52" x2="500.19" y2="403.52" stroke="#6c8393" stroke-width="0.45"/>
<line x1="500.19" y1="403.52" x2="500.19" y2="419.9" stroke="#6c8393" stroke-width="0.75"/>
<line x1="500.19" y1="404.09" x2="502" y2="404.09" stroke="#6c8393" stroke-width="0.45"/>
<line x1="502" y1="404.09" x2="502" y2="419.9" stroke="#6c8393" stroke-width="0.75"/>
<line x1="502" y1="404.65" x2="503.81" y2="404.65" stroke="#6c8393" stroke-width="0.45"/>
<line x1="503.81" y1="404.65" x2="503.81" y2="419.9" stroke="#6c8393" stroke-width="0.75"/>
<line x1="503.81" y1="405.1" x2="505.62" y2="405.1" stroke="#6c8393" stroke-width="0.45"/>
<line x1="505.62" y1="405.1" x2="505.62" y2="419.9" stroke="#6c8393" stroke-width="0.75"/>
<line x1="505.62" y1="405.54" x2="507.43" y2="405.54" stroke="#6c8393" stroke-width="0.45"/>
<line x1="507.43" y1="405.54" x2="507.43" y2="419.9" stroke="#6c8393" stroke-width="0.75"/>
<line x1="507.43" y1="405.97" x2="509.24" y2="405.97" stroke="#6c8393" stroke-width="0.45"/>
<line x1="509.24" y1="405.97" x2="509.24" y2="419.9" stroke="#6c8393" stroke-width="0.75"/>
<line x1="509.24" y1="406.38" x2="511.05" y2="406.38" stroke="#6c8393" stroke-width="0.45"/>
<line x1="511.05" y1="406.38" x2="511.05" y2="419.9" stroke="#6c8393" stroke-width="0.75"/>
<line x1="511.05" y1="406.79" x2="512.86" y2="406.79" stroke="#6c8393" stroke-width="0.45"/>
<line x1="512.86" y1="406.79" x2="512.86" y2="419.9" stroke="#6c8393" stroke-width="0.75"/>
<line x1="512.86" y1="407.18" x2="514.66" y2="407.18" stroke="#6c8393" stroke-width="0.45"/>
<line x1="514.66" y1="407.18" x2="514.66" y2="419.9" stroke="#6c8393" stroke-width="0.75"/>
<line x1="514.66" y1="407.48" x2="516.47" y2="407.48" stroke="#6c8393" stroke-width="0.45"/>
<line x1="516.47" y1="407.48" x2="516.47" y2="419.9" stroke="#6c8393" stroke-width="0.75"/>
<line x1="516.47" y1="407.77" x2="518.28" y2="407.77" stroke="#6c8393" stroke-width="0.45"/>
<line x1="518.28" y1="407.77" x2="518.28" y2="419.9" stroke="#6c8393" stroke-width="0.75"/>
<line x1="518.28" y1="408.06" x2="520.09" y2="408.06" stroke="#6c8393" stroke-width="0.45"/>
<line x1="520.09" y1="408.06" x2="520.09" y2="419.9" stroke="#6c8393" stroke-width="0.75"/>
<line x1="520.09" y1="408.33" x2="521.9" y2="408.33" stroke="#6c8393" stroke-width="0.45"/>
<line x1="521.9" y1="408.33" x2="521.9" y2="419.9" stroke="#6c8393" stroke-width="0.75"/>
<line x1="521.9" y1="408.61" x2="523.71" y2="408.61" stroke="#6c8393" stroke-width="0.45"/>
<line x1="523.71" y1="408.61" x2="523.71" y2="419.9" stroke="#6c8393" stroke-width="0.75"/>
<line x1="523.71" y1="408.87" x2="525.52" y2="408.87" stroke="#6c8393" stroke-width="0.45"/>
<line x1="525.52" y1="408.87" x2="525.52" y2="419.9" stroke="#6c8393" stroke-width="0.75"/>
<line x1="525.52" y1="409.13" x2="527.33" y2="409.13" stroke="#6c8393" stroke-width="0.45"/>
<line x1="527.33" y1="409.13" x2="527.33" y2="419.9" stroke="#6c8393" stroke-width="0.75"/>
<line x1="527.33" y1="409.39" x2="529.14" y2="409.39" stroke="#6c8393" stroke-width="0.45"/>
<line x1="529.14" y1="409.39" x2="529.14" y2="419.9" stroke="#6c8393" stroke-width="0.75"/>
<line x1="529.14" y1="409.63" x2="530.95" y2="409.63" stroke="#6c8393" stroke-width="0.45"/>
<line x1="530.95" y1="409.63" x2="530.95" y2="419.9" stroke="#6c8393" stroke-width="0.75"/>
<line x1="530.95" y1="409.77" x2="532.76" y2="409.77" stroke="#6c8393" stroke-width="0.45"/>
<line x1="532.76" y1="409.77" x2="532.76" y2="419.9" stroke="#6c8393" stroke-width="0.75"/>
<line x1="532.76" y1="409.91" x2="534.57" y2="409.91" stroke="#6c8393" stroke-width="0.45"/>
<line x1="534.57" y1="409.91" x2="534.57" y2="419.9" stroke="#6c8393" stroke-width="0.75"/>
<line x1="534.57" y1="410.04" x2="536.38" y2="410.04" stroke="#6c8393" stroke-width="0.45"/>
<line x1="536.38" y1="410.04" x2="536.38" y2="419.9" stroke="#6c8393" stroke-width="0.75"/>
<line x1="536.38" y1="410.17" x2="538.19" y2="410.17" stroke="#6c8393" stroke-width="0.45"/>
<line x1="538.19" y1="410.17" x2="538.19" y2="419.9" stroke="#6c8393" stroke-width="0.75"/>
<line x1="538.19" y1="410.3" x2="540" y2="410.3" stroke="#6c8393" stroke-width="0.45"/>
<line x1="540" y1="410.3" x2="540" y2="419.9" stroke="#6c8393" stroke-width="0.75"/>
<line x1="540" y1="410.43" x2="541.8" y2="410.43" stroke="#6c8393" stroke-width="0.45"/>
<line x1="541.8" y1="410.43" x2="541.8" y2="419.9" stroke="#6c8393" stroke-width="0.75"/>
<line x1="541.8" y1="410.56" x2="543.61" y2="410.56" stroke="#6c8393" stroke-width="0.45"/>
<line x1="543.61" y1="410.56" x2="543.61" y2="419.9" stroke="#6c8393" stroke-width="0.75"/>
<line x1="543.61" y1="410.68" x2="545.42" y2="410.68" stroke="#6c8393" stroke-width="0.45"/>
<line x1="545.42" y1="410.68" x2="545.42" y2="419.9" stroke="#6c8393" stroke-width="0.75"/>
<line x1="545.42" y1="410.8" x2="547.23" y2="410.8" stroke="#6c8393" stroke-width="0.45"/>
<line x1="547.23" y1="410.8" x2="547.23" y2="419.9" stroke="#6c8393" stroke-width="0.75"/>
<line x1="547.23" y1="410.93" x2="549.04" y2="410.93" stroke="#6c8393" stroke-width="0.45"/>
<line x1="549.04" y1="410.93" x2="549.04" y2="419.9" stroke="#6c8393" stroke-width="0.75"/>
<line x1="549.04" y1="411.05" x2="550.85" y2="411.05" stroke="#6c8393" stroke-width="0.45"/>
<line x1="550.85" y1="411.05" x2="550.85" y2="419.9" stroke="#6c8393" stroke-width="0.75"/>
<line x1="550.85" y1="411.2" x2="552.66" y2="411.2" stroke="#6c8393" stroke-width="0.45"/>
<line x1="552.66" y1="411.2" x2="552.66" y2="419.9" stroke="#6c8393" stroke-width="0.75"/>
<line x1="552.66" y1="411.35" x2="554.47" y2="411.35" stroke="#6c8393" stroke-width="0.45"/>
<line x1="554.47" y1="411.35" x2="554.47" y2="419.9" stroke="#6c8393" stroke-width="0.75"/>
<line x1="554.47" y1="411.5" x2="556.28" y2="411.5" stroke="#6c8393" stroke-width="0.45"/>
<line x1="556.28" y1="411.5" x2="556.28" y2="419.9" stroke="#6c8393" stroke-width="0.75"/>
<line x1="556.28" y1="411.65" x2="558.09" y2="411.65" stroke="#6c8393" stroke-width="0.45"/>
<line x1="558.09" y1="411.65" x2="558.09" y2="419.9" stroke="#6c8393" stroke-width="0.75"/>
<line x1="558.09" y1="411.8" x2="559.9" y2="411.8" stroke="#6c8393" stroke-width="0.45"/>
<line x1="559.9" y1="411.8" x2="559.9" y2="419.9" stroke="#6c8393" stroke-width="0.75"/>
<line x1="559.9" y1="411.94" x2="561.71" y2="411.94" stroke="#6c8393" stroke-width="0.45"/>
<line x1="561.71" y1="411.94" x2="561.71" y2="419.9" stroke="#6c8393" stroke-width="0.75"/>
<line x1="561.71" y1="412.03" x2="563.52" y2="412.03" stroke="#6c8393" stroke-width="0.45"/>
<line x1="563.52" y1="412.03" x2="563.52" y2="419.9" stroke="#6c8393" stroke-width="0.75"/>
<line x1="563.52" y1="412.13" x2="565.33" y2="412.13" stroke="#6c8393" stroke-width="0.45"/>
<line x1="565.33" y1="412.13" x2="565.33" y2="419.9" stroke="#6c8393" stroke-width="0.75"/>
<line x1="565.33" y1="412.22" x2="567.14" y2="412.22" stroke="#6c8393" stroke-width="0.45"/>
<line x1="567.14" y1="412.22" x2="567.14" y2="419.9" stroke="#6c8393" stroke-width="0.75"/>
<line x1="567.14" y1="412.31" x2="568.94" y2="412.31" stroke="#6c8393" stroke-width="0.45"/>
<line x1="568.94" y1="412.31" x2="568.94" y2="419.9" stroke="#6c8393" stroke-width="0.75"/>
<line x1="568.94" y1="412.42" x2="570.75" y2="412.42" stroke="#6c8393" stroke-width="0.45"/>
<line x1="570.75" y1="412.42" x2="570.75" y2="419.9" stroke="#6c8393" stroke-width="0.75"/>
<line x1="570.75" y1="412.53" x2="572.56" y2="412.53" stroke="#6c8393" stroke-width="0.45"/>
<line x1="572.56" y1="412.53" x2="572.56" y2="419.9" stroke="#6c8393" stroke-width="0.75"/>
<line x1="572.56" y1="412.64" x2="574.37" y2="412.64" stroke="#6c8393" stroke-width="0.45"/>
<line x1="574.37" y1="412.64" x2="574.37" y2="419.9" stroke="#6c8393" stroke-width="0.75"/>
<line x1="574.37" y1="412.75" x2="576.18" y2="412.75" stroke="#6c8393" stroke-width="0.45"/>
<line x1="576.18" y1="412.75" x2="576.18" y2="419.9" stroke="#6c8393" stroke-width="0.75"/>
<line x1="576.18" y1="412.85" x2="577.99" y2="412.85" stroke="#6c8393" stroke-width="0.45"/>
<line x1="577.99" y1="412.85" x2="577.99" y2="419.9" stroke="#6c8393" stroke-width="0.75"/>
<line x1="577.99" y1="412.95" x2="579.8" y2="412.95" stroke="#6c8393" stroke-width="0.45"/>
<line x1="579.8" y1="412.95" x2="579.8" y2="419.9" stroke="#6c8393" stroke-width="0.75"/>
<line x1="579.8" y1="413.06" x2="581.61" y2="413.06" stroke="#6c8393" stroke-width="0.45"/>
<line x1="581.61" y1="413.06" x2="581.61" y2="419.9" stroke="#6c8393" stroke-width="0.75"/>
<line x1="581.61" y1="413.16" x2="583.42" y2="413.16" stroke="#6c8393" stroke-width="0.45"/>
<line x1="583.42" y1="413.16" x2="583.42" y2="419.9" stroke="#6c8393" stroke-width="0.75"/>
<line x1="583.42" y1="413.26" x2="585.23" y2="413.26" stroke="#6c8393" stroke-width="0.45"/>
<line x1="585.23" y1="413.26" x2="585.23" y2="419.9" stroke="#6c8393" stroke-width="0.75"/>
<line x1="585.23" y1="413.35" x2="587.04" y2="413.35" stroke="#6c8393" stroke-width="0.45"/>
<line x1="587.04" y1="413.35" x2="587.04" y2="419.9" stroke="#6c8393" stroke-width="0.75"/>
<line x1="587.04" y1="413.44" x2="588.85" y2="413.44" stroke="#6c8393" stroke-width="0.45"/>
<line x1="588.85" y1="413.44" x2="588.85" y2="419.9" stroke="#6c8393" stroke-width="0.75"/>
<line x1="588.85" y1="413.53" x2="590.66" y2="413.53" stroke="#6c8393" stroke-width="0.45"/>
<line x1="590.66" y1="413.53" x2="590.66" y2="419.9" stroke="#6c8393" stroke-width="0.75"/>
<line x1="590.66" y1="413.61" x2="592.47" y2="413.61" stroke="#6c8393" stroke-width="0.45"/>
<line x1="592.47" y1="413.61" x2="592.47" y2="419.9" stroke="#6c8393" stroke-width="0.75"/>
<line x1="592.47" y1="413.69" x2="594.28" y2="413.69" stroke="#6c8393" stroke-width="0.45"/>
<line x1="594.28" y1="413.69" x2="594.28" y2="419.9" stroke="#6c8393" stroke-width="0.75"/>
<line x1="594.28" y1="413.78" x2="596.08" y2="413.78" stroke="#6c8393" stroke-width="0.45"/>
<line x1="596.08" y1="413.78" x2="596.08" y2="419.9" stroke="#6c8393" stroke-width="0.75"/>
<line x1="596.08" y1="413.86" x2="597.89" y2="413.86" stroke="#6c8393" stroke-width="0.45"/>
<line x1="597.89" y1="413.86" x2="597.89" y2="419.9" stroke="#6c8393" stroke-width="0.75"/>
<line x1="597.89" y1="413.94" x2="599.7" y2="413.94" stroke="#6c8393" stroke-width="0.45"/>
<line x1="599.7" y1="413.94" x2="599.7" y2="419.9" stroke="#6c8393" stroke-width="0.75"/>
<line x1="599.7" y1="414.02" x2="601.51" y2="414.02" stroke="#6c8393" stroke-width="0.45"/>
<line x1="601.51" y1="414.02" x2="601.51" y2="419.9" stroke="#6c8393" stroke-width="0.75"/>
<line x1="601.51" y1="414.09" x2="603.32" y2="414.09" stroke="#6c8393" stroke-width="0.45"/>
<line x1="603.32" y1="414.09" x2="603.32" y2="419.9" stroke="#6c8393" stroke-width="0.75"/>
<line x1="603.32" y1="414.17" x2="605.13" y2="414.17" stroke="#6c8393" stroke-width="0.45"/>
<line x1="605.13" y1="414.17" x2="605.13" y2="419.9" stroke="#6c8393" stroke-width="0.75"/>
<line x1="605.13" y1="414.23" x2="606.94" y2="414.23" stroke="#6c8393" stroke-width="0.45"/>
<line x1="606.94" y1="414.23" x2="606.94" y2="419.9" stroke="#6c8393" stroke-width="0.75"/>
<line x1="606.94" y1="414.3" x2="608.75" y2="414.3" stroke="#6c8393" stroke-width="0.45"/>
<line x1="608.75" y1="414.3" x2="608.75" y2="419.9" stroke="#6c8393" stroke-width="0.75"/>
<line x1="608.75" y1="414.36" x2="610.56" y2="414.36" stroke="#6c8393" stroke-width="0.45"/>
<line x1="610.56" y1="414.36" x2="610.56" y2="419.9" stroke="#6c8393" stroke-width="0.75"/>
<line x1="610.56" y1="414.42" x2="612.37" y2="414.42" stroke="#6c8393" stroke-width="0.45"/>
<line x1="612.37" y1="414.42" x2="612.37" y2="419.9" stroke="#6c8393" stroke-width="0.75"/>
<line x1="612.37" y1="414.48" x2="614.18" y2="414.48" stroke="#6c8393" stroke-width="0.45"/>
<line x1="614.18" y1="414.48" x2="614.18" y2="419.9" stroke="#6c8393" stroke-width="0.75"/>
<line x1="614.18" y1="414.54" x2="615.99" y2="414.54" stroke="#6c8393" stroke-width="0.45"/>
<line x1="615.99" y1="414.54" x2="615.99" y2="419.9" stroke="#6c8393" stroke-width="0.75"/>
<line x1="615.99" y1="414.59" x2="617.8" y2="414.59" stroke="#6c8393" stroke-width="0.45"/>
<line x1="617.8" y1="414.59" x2="617.8" y2="419.9" stroke="#6c8393" stroke-width="0.75"/>
<line x1="617.8" y1="414.65" x2="619.61" y2="414.65" stroke="#6c8393" stroke-width="0.45"/>
<line x1="619.61" y1="414.65" x2="619.61" y2="419.9" stroke="#6c8393" stroke-width="0.75"/>
<line x1="619.61" y1="414.71" x2="621.42" y2="414.71" stroke="#6c8393" stroke-width="0.45"/>
<line x1="621.42" y1="414.71" x2="621.42" y2="419.9" stroke="#6c8393" stroke-width="0.75"/>
<line x1="621.42" y1="414.77" x2="623.22" y2="414.77" stroke="#6c8393" stroke-width="0.45"/>
<line x1="623.22" y1="414.77" x2="623.22" y2="419.9" stroke="#6c8393" stroke-width="0.75"/>
<line x1="623.22" y1="414.83" x2="625.03" y2="414.83" stroke="#6c8393" stroke-width="0.45"/>
<line x1="625.03" y1="414.83" x2="625.03" y2="419.9" stroke="#6c8393" stroke-width="0.75"/>
<line x1="625.03" y1="414.88" x2="626.84" y2="414.88" stroke="#6c8393" stroke-width="0.45"/>
<line x1="626.84" y1="414.88" x2="626.84" y2="419.9" stroke="#6c8393" stroke-width="0.75"/>
<line x1="626.84" y1="414.94" x2="628.65" y2="414.94" stroke="#6c8393" stroke-width="0.45"/>
<line x1="628.65" y1="414.94" x2="628.65" y2="419.9" stroke="#6c8393" stroke-width="0.75"/>
<line x1="628.65" y1="415" x2="630.46" y2="415" stroke="#6c8393" stroke-width="0.45"/>
<line x1="630.46" y1="415" x2="630.46" y2="419.9" stroke="#6c8393" stroke-width="0.75"/>
<line x1="630.46" y1="415.06" x2="632.27" y2="415.06" stroke="#6c8393" stroke-width="0.45"/>
<line x1="632.27" y1="415.06" x2="632.27" y2="419.9" stroke="#6c8393" stroke-width="0.75"/>
<line x1="632.27" y1="415.11" x2="634.08" y2="415.11" stroke="#6c8393" stroke-width="0.45"/>
<line x1="634.08" y1="415.11" x2="634.08" y2="419.9" stroke="#6c8393" stroke-width="0.75"/>
<line x1="634.08" y1="415.17" x2="635.89" y2="415.17" stroke="#6c8393" stroke-width="0.45"/>
<line x1="635.89" y1="415.17" x2="635.89" y2="419.9" stroke="#6c8393" stroke-width="0.75"/>
<line x1="635.89" y1="415.22" x2="637.7" y2="415.22" stroke="#6c8393" stroke-width="0.45"/>
<line x1="637.7" y1="415.22" x2="637.7" y2="419.9" stroke="#6c8393" stroke-width="0.75"/>
<line x1="637.7" y1="415.27" x2="639.51" y2="415.27" stroke="#6c8393" stroke-width="0.45"/>
<line x1="639.51" y1="415.27" x2="639.51" y2="419.9" stroke="#6c8393" stroke-width="0.75"/>
<line x1="639.51" y1="415.33" x2="641.32" y2="415.33" stroke="#6c8393" stroke-width="0.45"/>
<line x1="641.32" y1="415.33" x2="641.32" y2="419.9" stroke="#6c8393" stroke-width="0.75"/>
<line x1="641.32" y1="415.38" x2="643.13" y2="415.38" stroke="#6c8393" stroke-width="0.45"/>
<line x1="643.13" y1="415.38" x2="643.13" y2="419.9" stroke="#6c8393" stroke-width="0.75"/>
<line x1="643.13" y1="415.43" x2="644.94" y2="415.43" stroke="#6c8393" stroke-width="0.45"/>
<line x1="644.94" y1="415.43" x2="644.94" y2="419.9" stroke="#6c8393" stroke-width="0.75"/>
<line x1="644.94" y1="415.48" x2="646.75" y2="415.48" stroke="#6c8393" stroke-width="0.45"/>
<line x1="646.75" y1="415.48" x2="646.75" y2="419.9" stroke="#6c8393" stroke-width="0.75"/>
<line x1="646.75" y1="415.53" x2="648.56" y2="415.53" stroke="#6c8393" stroke-width="0.45"/>
<line x1="648.56" y1="415.53" x2="648.56" y2="419.9" stroke="#6c8393" stroke-width="0.75"/>
<line x1="648.56" y1="415.58" x2="650.36" y2="415.58" stroke="#6c8393" stroke-width="0.45"/>
<line x1="650.36" y1="415.58" x2="650.36" y2="419.9" stroke="#6c8393" stroke-width="0.75"/>
<line x1="650.36" y1="415.63" x2="652.17" y2="415.63" stroke="#6c8393" stroke-width="0.45"/>
<line x1="652.17" y1="415.63" x2="652.17" y2="419.9" stroke="#6c8393" stroke-width="0.75"/>
<line x1="652.17" y1="415.68" x2="653.98" y2="415.68" stroke="#6c8393" stroke-width="0.45"/>
<line x1="653.98" y1="415.68" x2="653.98" y2="419.9" stroke="#6c8393" stroke-width="0.75"/>
<line x1="653.98" y1="415.73" x2="655.79" y2="415.73" stroke="#6c8393" stroke-width="0.45"/>
<line x1="655.79" y1="415.73" x2="655.79" y2="419.9" stroke="#6c8393" stroke-width="0.75"/>
<line x1="655.79" y1="415.77" x2="657.6" y2="415.77" stroke="#6c8393" stroke-width="0.45"/>
<line x1="657.6" y1="415.77" x2="657.6" y2="419.9" stroke="#6c8393" stroke-width="0.75"/>
<line x1="657.6" y1="415.82" x2="659.41" y2="415.82" stroke="#6c8393" stroke-width="0.45"/>
<line x1="659.41" y1="415.82" x2="659.41" y2="419.9" stroke="#6c8393" stroke-width="0.75"/>
<line x1="659.41" y1="415.87" x2="661.22" y2="415.87" stroke="#6c8393" stroke-width="0.45"/>
<line x1="661.22" y1="415.87" x2="661.22" y2="419.9" stroke="#6c8393" stroke-width="0.75"/>
<line x1="661.22" y1="415.91" x2="663.03" y2="415.91" stroke="#6c8393" stroke-width="0.45"/>
<line x1="663.03" y1="415.91" x2="663.03" y2="419.9" stroke="#6c8393" stroke-width="0.75"/>
<line x1="663.03" y1="415.96" x2="664.84" y2="415.96" stroke="#6c8393" stroke-width="0.45"/>
<line x1="664.84" y1="415.96" x2="664.84" y2="419.9" stroke="#6c8393" stroke-width="0.75"/>
<line x1="664.84" y1="416" x2="666.65" y2="416" stroke="#6c8393" stroke-width="0.45"/>
<line x1="666.65" y1="416" x2="666.65" y2="419.9" stroke="#6c8393" stroke-width="0.75"/>
<line x1="666.65" y1="416.04" x2="668.46" y2="416.04" stroke="#6c8393" stroke-width="0.45"/>
<line x1="668.46" y1="416.04" x2="668.46" y2="419.9" stroke="#6c8393" stroke-width="0.75"/>
<line x1="668.46" y1="416.09" x2="670.27" y2="416.09" stroke="#6c8393" stroke-width="0.45"/>
<line x1="670.27" y1="416.09" x2="670.27" y2="419.9" stroke="#6c8393" stroke-width="0.75"/>
<line x1="670.27" y1="416.13" x2="672.08" y2="416.13" stroke="#6c8393" stroke-width="0.45"/>
<line x1="672.08" y1="416.13" x2="672.08" y2="419.9" stroke="#6c8393" stroke-width="0.75"/>
<line x1="672.08" y1="416.17" x2="673.89" y2="416.17" stroke="#6c8393" stroke-width="0.45"/>
<line x1="673.89" y1="416.17" x2="673.89" y2="419.9" stroke="#6c8393" stroke-width="0.75"/>
<line x1="673.89" y1="416.21" x2="675.7" y2="416.21" stroke="#6c8393" stroke-width="0.45"/>
<line x1="675.7" y1="416.21" x2="675.7" y2="419.9" stroke="#6c8393" stroke-width="0.75"/>
<line x1="675.7" y1="416.25" x2="677.5" y2="416.25" stroke="#6c8393" stroke-width="0.45"/>
<line x1="677.5" y1="416.25" x2="677.5" y2="419.9" stroke="#6c8393" stroke-width="0.75"/>
<line x1="677.5" y1="416.29" x2="679.31" y2="416.29" stroke="#6c8393" stroke-width="0.45"/>
<line x1="679.31" y1="416.29" x2="679.31" y2="419.9" stroke="#6c8393" stroke-width="0.75"/>
<rect x="422.29" y="265.6" width="2.01" height="154.3" fill="#c8705a" stroke="none" stroke-width="1"/>
</g>
<text x="430" y="274" font-size="9.5" text-anchor="start" fill="#e8141e">207,399</text>
<rect x="405.2" y="257.7" width="273.3" height="162.2" fill="none" stroke="#3a3a3a" stroke-width="0.9"/>
<line x1="402.4" y1="419.9" x2="405.2" y2="419.9" stroke="#3a3a3a" stroke-width="0.8"/>
<text x="400.2" y="423.1" font-size="9" text-anchor="end" fill="#000">0k</text>
<line x1="402.4" y1="401.3" x2="405.2" y2="401.3" stroke="#3a3a3a" stroke-width="0.8"/>
<text x="400.2" y="404.5" font-size="9" text-anchor="end" fill="#000">25k</text>
<line x1="402.4" y1="382.7" x2="405.2" y2="382.7" stroke="#3a3a3a" stroke-width="0.8"/>
<text x="400.2" y="385.9" font-size="9" text-anchor="end" fill="#000">50k</text>
<line x1="402.4" y1="364.1" x2="405.2" y2="364.1" stroke="#3a3a3a" stroke-width="0.8"/>
<text x="400.2" y="367.3" font-size="9" text-anchor="end" fill="#000">75k</text>
<line x1="402.4" y1="345.5" x2="405.2" y2="345.5" stroke="#3a3a3a" stroke-width="0.8"/>
<text x="400.2" y="348.7" font-size="9" text-anchor="end" fill="#000">100k</text>
<line x1="402.4" y1="326.9" x2="405.2" y2="326.9" stroke="#3a3a3a" stroke-width="0.8"/>
<text x="400.2" y="330.1" font-size="9" text-anchor="end" fill="#000">125k</text>
<line x1="402.4" y1="308.3" x2="405.2" y2="308.3" stroke="#3a3a3a" stroke-width="0.8"/>
<text x="400.2" y="311.5" font-size="9" text-anchor="end" fill="#000">150k</text>
<line x1="402.4" y1="289.7" x2="405.2" y2="289.7" stroke="#3a3a3a" stroke-width="0.8"/>
<text x="400.2" y="292.9" font-size="9" text-anchor="end" fill="#000">175k</text>
<line x1="402.4" y1="271.1" x2="405.2" y2="271.1" stroke="#3a3a3a" stroke-width="0.8"/>
<text x="400.2" y="274.3" font-size="9" text-anchor="end" fill="#000">200k</text>
<line x1="405.2" y1="419.9" x2="405.2" y2="422.7" stroke="#3a3a3a" stroke-width="0.8"/>
<text x="405.2" y="431.8" font-size="9" text-anchor="middle" fill="#000">0</text>
<line x1="459.48" y1="419.9" x2="459.48" y2="422.7" stroke="#3a3a3a" stroke-width="0.8"/>
<text x="459.48" y="431.8" font-size="9" text-anchor="middle" fill="#000">30</text>
<line x1="513.76" y1="419.9" x2="513.76" y2="422.7" stroke="#3a3a3a" stroke-width="0.8"/>
<text x="513.76" y="431.8" font-size="9" text-anchor="middle" fill="#000">60</text>
<line x1="568.04" y1="419.9" x2="568.04" y2="422.7" stroke="#3a3a3a" stroke-width="0.8"/>
<text x="568.04" y="431.8" font-size="9" text-anchor="middle" fill="#000">90</text>
<line x1="622.32" y1="419.9" x2="622.32" y2="422.7" stroke="#3a3a3a" stroke-width="0.8"/>
<text x="622.32" y="431.8" font-size="9" text-anchor="middle" fill="#000">120</text>
<line x1="676.6" y1="419.9" x2="676.6" y2="422.7" stroke="#3a3a3a" stroke-width="0.8"/>
<text x="676.6" y="431.8" font-size="9" text-anchor="middle" fill="#000">150</text>
<text x="541.6" y="443.8" font-size="10.2" text-anchor="middle" fill="#000">Inter STRs spacing (bp)</text>
<text x="376.4" y="338" font-size="10.3" text-anchor="middle" fill="#000" transform="rotate(-90 376.4 338)">Count of STRs</text>
</g>
</svg>
</body></html>
